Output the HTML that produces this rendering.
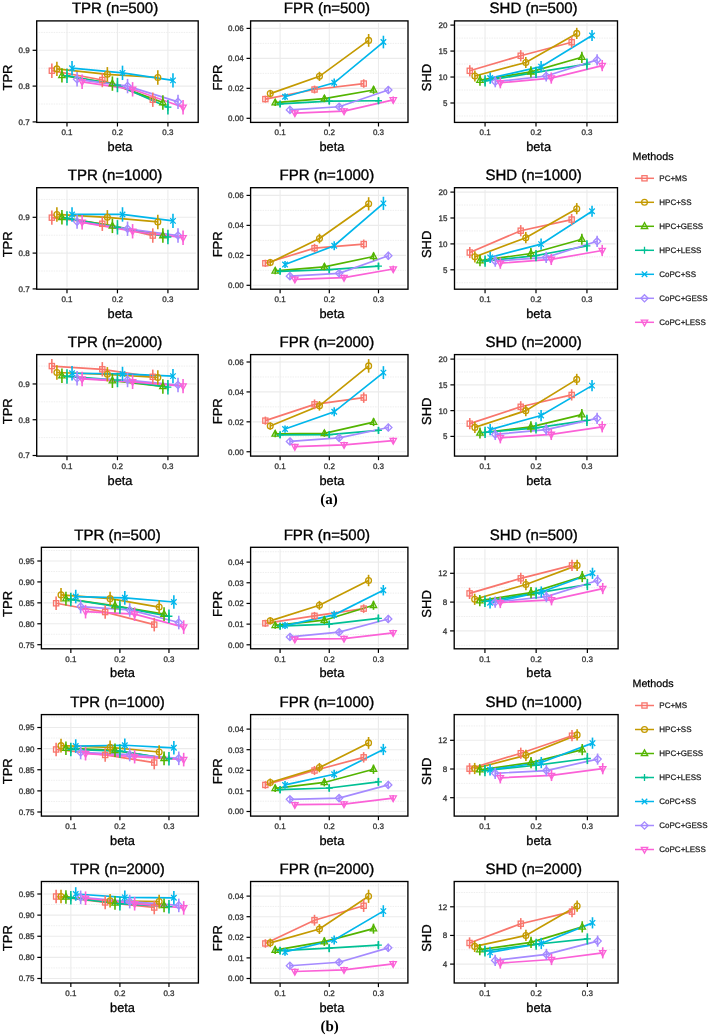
<!DOCTYPE html>
<html><head><meta charset="utf-8"><style>
html,body{margin:0;padding:0;background:#fff;width:709px;height:1035px;overflow:hidden}
svg{display:block;text-rendering:geometricPrecision;will-change:transform}
</style></head><body>
<svg width="709" height="1035" viewBox="0 0 709 1035" font-family='"Liberation Sans", sans-serif'>
<rect width="709" height="1035" fill="#fff"/>
<line x1="38.7" y1="104" x2="196.2" y2="104" stroke="#EEEEEE" stroke-width="1" stroke-dasharray="1.5,1"/>
<line x1="38.7" y1="68.2" x2="196.2" y2="68.2" stroke="#EEEEEE" stroke-width="1" stroke-dasharray="1.5,1"/>
<line x1="38.7" y1="32.4" x2="196.2" y2="32.4" stroke="#EEEEEE" stroke-width="1" stroke-dasharray="1.5,1"/>
<line x1="38.7" y1="86.1" x2="196.2" y2="86.1" stroke="#EBEBEB" stroke-width="1.1"/>
<line x1="38.7" y1="50.3" x2="196.2" y2="50.3" stroke="#EBEBEB" stroke-width="1.1"/>
<line x1="66.98" y1="22.9" x2="66.98" y2="120.4" stroke="#EBEBEB" stroke-width="1.1"/>
<line x1="117.45" y1="22.9" x2="117.45" y2="120.4" stroke="#EBEBEB" stroke-width="1.1"/>
<line x1="167.92" y1="22.9" x2="167.92" y2="120.4" stroke="#EBEBEB" stroke-width="1.1"/>
<path d="M51.84,70.71 L102.31,80.01 L152.78,99.7" fill="none" stroke="#F8766D" stroke-width="1.7"/>
<path d="M56.89,68.92 L107.36,74.29 L157.82,77.51" fill="none" stroke="#C49A00" stroke-width="1.7"/>
<path d="M61.93,75.36 L112.4,83.59 L162.87,102.57" fill="none" stroke="#53B400" stroke-width="1.7"/>
<path d="M66.98,75.72 L117.45,85.03 L167.92,107.22" fill="none" stroke="#00C094" stroke-width="1.7"/>
<path d="M72.03,68.2 L122.5,72.85 L172.97,80.37" fill="none" stroke="#00B6EB" stroke-width="1.7"/>
<path d="M77.08,79.3 L127.54,86.1 L178.01,101.85" fill="none" stroke="#A58AFF" stroke-width="1.7"/>
<path d="M82.12,81.8 L132.59,89.32 L183.06,107.22" fill="none" stroke="#FB61D7" stroke-width="1.7"/>
<line x1="51.84" y1="63.51" x2="51.84" y2="77.91" stroke="#F8766D" stroke-width="1.6"/>
<rect x="49.24" y="68.11" width="5.2" height="5.2" fill="none" stroke="#F8766D" stroke-width="1.3"/>
<line x1="102.31" y1="72.81" x2="102.31" y2="87.21" stroke="#F8766D" stroke-width="1.6"/>
<rect x="99.71" y="77.41" width="5.2" height="5.2" fill="none" stroke="#F8766D" stroke-width="1.3"/>
<line x1="152.78" y1="92.5" x2="152.78" y2="106.9" stroke="#F8766D" stroke-width="1.6"/>
<rect x="150.18" y="97.1" width="5.2" height="5.2" fill="none" stroke="#F8766D" stroke-width="1.3"/>
<line x1="56.89" y1="61.72" x2="56.89" y2="76.12" stroke="#C49A00" stroke-width="1.6"/>
<circle cx="56.89" cy="68.92" r="2.9" fill="none" stroke="#C49A00" stroke-width="1.3"/>
<line x1="107.36" y1="67.09" x2="107.36" y2="81.49" stroke="#C49A00" stroke-width="1.6"/>
<circle cx="107.36" cy="74.29" r="2.9" fill="none" stroke="#C49A00" stroke-width="1.3"/>
<line x1="157.82" y1="70.31" x2="157.82" y2="84.71" stroke="#C49A00" stroke-width="1.6"/>
<circle cx="157.82" cy="77.51" r="2.9" fill="none" stroke="#C49A00" stroke-width="1.3"/>
<line x1="61.93" y1="68.16" x2="61.93" y2="82.56" stroke="#53B400" stroke-width="1.6"/>
<path d="M61.93,71.74 L65.12,77.54 L58.74,77.54 Z" fill="none" stroke="#53B400" stroke-width="1.3"/>
<line x1="112.4" y1="76.39" x2="112.4" y2="90.79" stroke="#53B400" stroke-width="1.6"/>
<path d="M112.4,79.97 L115.59,85.77 L109.21,85.77 Z" fill="none" stroke="#53B400" stroke-width="1.3"/>
<line x1="162.87" y1="95.37" x2="162.87" y2="109.77" stroke="#53B400" stroke-width="1.6"/>
<path d="M162.87,98.94 L166.06,104.74 L159.68,104.74 Z" fill="none" stroke="#53B400" stroke-width="1.3"/>
<line x1="66.98" y1="68.52" x2="66.98" y2="82.92" stroke="#00C094" stroke-width="1.6"/>
<path d="M63.5,75.72 H70.46 M66.98,72.24 V79.2" fill="none" stroke="#00C094" stroke-width="1.3"/>
<line x1="117.45" y1="77.83" x2="117.45" y2="92.23" stroke="#00C094" stroke-width="1.6"/>
<path d="M113.97,85.03 H120.93 M117.45,81.55 V88.51" fill="none" stroke="#00C094" stroke-width="1.3"/>
<line x1="167.92" y1="100.02" x2="167.92" y2="114.42" stroke="#00C094" stroke-width="1.6"/>
<path d="M164.44,107.22 H171.4 M167.92,103.74 V110.7" fill="none" stroke="#00C094" stroke-width="1.3"/>
<line x1="72.03" y1="61" x2="72.03" y2="75.4" stroke="#00B6EB" stroke-width="1.6"/>
<path d="M69.27,65.45 L74.78,70.96 M69.27,70.96 L74.78,65.45" fill="none" stroke="#00B6EB" stroke-width="1.3"/>
<line x1="122.5" y1="65.65" x2="122.5" y2="80.05" stroke="#00B6EB" stroke-width="1.6"/>
<path d="M119.74,70.1 L125.25,75.61 M119.74,75.61 L125.25,70.1" fill="none" stroke="#00B6EB" stroke-width="1.3"/>
<line x1="172.97" y1="73.17" x2="172.97" y2="87.57" stroke="#00B6EB" stroke-width="1.6"/>
<path d="M170.21,77.62 L175.72,83.13 M170.21,83.13 L175.72,77.62" fill="none" stroke="#00B6EB" stroke-width="1.3"/>
<line x1="77.08" y1="72.1" x2="77.08" y2="86.5" stroke="#A58AFF" stroke-width="1.6"/>
<path d="M77.08,75.67 L80.7,79.3 L77.08,82.92 L73.45,79.3 Z" fill="none" stroke="#A58AFF" stroke-width="1.3"/>
<line x1="127.54" y1="78.9" x2="127.54" y2="93.3" stroke="#A58AFF" stroke-width="1.6"/>
<path d="M127.54,82.47 L131.17,86.1 L127.54,89.72 L123.92,86.1 Z" fill="none" stroke="#A58AFF" stroke-width="1.3"/>
<line x1="178.01" y1="94.65" x2="178.01" y2="109.05" stroke="#A58AFF" stroke-width="1.6"/>
<path d="M178.01,98.23 L181.64,101.85 L178.01,105.48 L174.39,101.85 Z" fill="none" stroke="#A58AFF" stroke-width="1.3"/>
<line x1="82.12" y1="74.6" x2="82.12" y2="89" stroke="#FB61D7" stroke-width="1.6"/>
<path d="M82.12,85.43 L85.31,79.63 L78.93,79.63 Z" fill="none" stroke="#FB61D7" stroke-width="1.3"/>
<line x1="132.59" y1="82.12" x2="132.59" y2="96.52" stroke="#FB61D7" stroke-width="1.6"/>
<path d="M132.59,92.95 L135.78,87.15 L129.4,87.15 Z" fill="none" stroke="#FB61D7" stroke-width="1.3"/>
<line x1="183.06" y1="100.02" x2="183.06" y2="114.42" stroke="#FB61D7" stroke-width="1.6"/>
<path d="M183.06,110.85 L186.25,105.05 L179.87,105.05 Z" fill="none" stroke="#FB61D7" stroke-width="1.3"/>
<rect x="36.7" y="20.9" width="161.5" height="101.5" fill="none" stroke="#000" stroke-width="1.35"/>
<line x1="32.6" y1="121.9" x2="36.7" y2="121.9" stroke="#000" stroke-width="1.2"/>
<text x="29.7" y="124.8" font-size="8" text-anchor="end" fill="#333" stroke="#333" stroke-width="0.3">0.7</text>
<line x1="32.6" y1="86.1" x2="36.7" y2="86.1" stroke="#000" stroke-width="1.2"/>
<text x="29.7" y="89" font-size="8" text-anchor="end" fill="#333" stroke="#333" stroke-width="0.3">0.8</text>
<line x1="32.6" y1="50.3" x2="36.7" y2="50.3" stroke="#000" stroke-width="1.2"/>
<text x="29.7" y="53.2" font-size="8" text-anchor="end" fill="#333" stroke="#333" stroke-width="0.3">0.9</text>
<line x1="66.98" y1="122.4" x2="66.98" y2="126.5" stroke="#000" stroke-width="1.2"/>
<text x="66.98" y="135.4" font-size="8" text-anchor="middle" fill="#333" stroke="#333" stroke-width="0.3">0.1</text>
<line x1="117.45" y1="122.4" x2="117.45" y2="126.5" stroke="#000" stroke-width="1.2"/>
<text x="117.45" y="135.4" font-size="8" text-anchor="middle" fill="#333" stroke="#333" stroke-width="0.3">0.2</text>
<line x1="167.92" y1="122.4" x2="167.92" y2="126.5" stroke="#000" stroke-width="1.2"/>
<text x="167.92" y="135.4" font-size="8" text-anchor="middle" fill="#333" stroke="#333" stroke-width="0.3">0.3</text>
<text x="115.05" y="13.3" font-size="15" text-anchor="middle" stroke="#000" stroke-width="0.35">TPR (n=500)</text>
<text x="120.05" y="150.9" font-size="12.8" text-anchor="middle" stroke="#000" stroke-width="0.3">beta</text>
<text transform="translate(11.7,77.55) rotate(-90)" font-size="13" text-anchor="middle" stroke="#000" stroke-width="0.3">TPR</text>
<line x1="252.6" y1="103.32" x2="406" y2="103.32" stroke="#EEEEEE" stroke-width="1" stroke-dasharray="1.5,1"/>
<line x1="252.6" y1="73.35" x2="406" y2="73.35" stroke="#EEEEEE" stroke-width="1" stroke-dasharray="1.5,1"/>
<line x1="252.6" y1="43.38" x2="406" y2="43.38" stroke="#EEEEEE" stroke-width="1" stroke-dasharray="1.5,1"/>
<line x1="252.6" y1="118.3" x2="406" y2="118.3" stroke="#EBEBEB" stroke-width="1.1"/>
<line x1="252.6" y1="88.33" x2="406" y2="88.33" stroke="#EBEBEB" stroke-width="1.1"/>
<line x1="252.6" y1="58.37" x2="406" y2="58.37" stroke="#EBEBEB" stroke-width="1.1"/>
<line x1="252.6" y1="28.4" x2="406" y2="28.4" stroke="#EBEBEB" stroke-width="1.1"/>
<line x1="280.11" y1="22.9" x2="280.11" y2="120.4" stroke="#EBEBEB" stroke-width="1.1"/>
<line x1="329.3" y1="22.9" x2="329.3" y2="120.4" stroke="#EBEBEB" stroke-width="1.1"/>
<line x1="378.49" y1="22.9" x2="378.49" y2="120.4" stroke="#EBEBEB" stroke-width="1.1"/>
<path d="M265.36,99.12 L314.54,89.53 L363.73,83.54" fill="none" stroke="#F8766D" stroke-width="1.7"/>
<path d="M270.27,93.58 L319.46,76.35 L368.65,40.39" fill="none" stroke="#C49A00" stroke-width="1.7"/>
<path d="M275.19,102.72 L324.38,98.67 L373.57,89.98" fill="none" stroke="#53B400" stroke-width="1.7"/>
<path d="M280.11,103.92 L329.3,101.07 L378.49,100.77" fill="none" stroke="#00C094" stroke-width="1.7"/>
<path d="M285.03,96.72 L334.22,82.79 L383.41,42.03" fill="none" stroke="#00B6EB" stroke-width="1.7"/>
<path d="M289.95,109.91 L339.14,106.76 L388.33,89.98" fill="none" stroke="#A58AFF" stroke-width="1.7"/>
<path d="M294.87,113.06 L344.06,111.11 L393.24,99.87" fill="none" stroke="#FB61D7" stroke-width="1.7"/>
<line x1="265.36" y1="95.66" x2="265.36" y2="102.58" stroke="#F8766D" stroke-width="1.6"/>
<rect x="262.76" y="96.52" width="5.2" height="5.2" fill="none" stroke="#F8766D" stroke-width="1.3"/>
<line x1="314.54" y1="85.59" x2="314.54" y2="93.47" stroke="#F8766D" stroke-width="1.6"/>
<rect x="311.94" y="86.93" width="5.2" height="5.2" fill="none" stroke="#F8766D" stroke-width="1.3"/>
<line x1="363.73" y1="79.3" x2="363.73" y2="87.78" stroke="#F8766D" stroke-width="1.6"/>
<rect x="361.13" y="80.94" width="5.2" height="5.2" fill="none" stroke="#F8766D" stroke-width="1.3"/>
<line x1="270.27" y1="89.84" x2="270.27" y2="97.31" stroke="#C49A00" stroke-width="1.6"/>
<circle cx="270.27" cy="93.58" r="2.9" fill="none" stroke="#C49A00" stroke-width="1.3"/>
<line x1="319.46" y1="71.75" x2="319.46" y2="80.94" stroke="#C49A00" stroke-width="1.6"/>
<circle cx="319.46" cy="76.35" r="2.9" fill="none" stroke="#C49A00" stroke-width="1.3"/>
<line x1="368.65" y1="33.99" x2="368.65" y2="46.78" stroke="#C49A00" stroke-width="1.6"/>
<circle cx="368.65" cy="40.39" r="2.9" fill="none" stroke="#C49A00" stroke-width="1.3"/>
<line x1="275.19" y1="99.44" x2="275.19" y2="106" stroke="#53B400" stroke-width="1.6"/>
<path d="M275.19,99.09 L278.38,104.89 L272,104.89 Z" fill="none" stroke="#53B400" stroke-width="1.3"/>
<line x1="324.38" y1="95.19" x2="324.38" y2="102.15" stroke="#53B400" stroke-width="1.6"/>
<path d="M324.38,95.05 L327.57,100.85 L321.19,100.85 Z" fill="none" stroke="#53B400" stroke-width="1.3"/>
<line x1="373.57" y1="86.07" x2="373.57" y2="93.9" stroke="#53B400" stroke-width="1.6"/>
<path d="M373.57,86.36 L376.76,92.16 L370.38,92.16 Z" fill="none" stroke="#53B400" stroke-width="1.3"/>
<line x1="280.11" y1="100.7" x2="280.11" y2="107.14" stroke="#00C094" stroke-width="1.6"/>
<path d="M276.63,103.92 H283.59 M280.11,100.44 V107.4" fill="none" stroke="#00C094" stroke-width="1.3"/>
<line x1="329.3" y1="97.71" x2="329.3" y2="104.43" stroke="#00C094" stroke-width="1.6"/>
<path d="M325.82,101.07 H332.78 M329.3,97.59 V104.55" fill="none" stroke="#00C094" stroke-width="1.3"/>
<line x1="378.49" y1="97.39" x2="378.49" y2="104.15" stroke="#00C094" stroke-width="1.6"/>
<path d="M375.01,100.77 H381.97 M378.49,97.29 V104.25" fill="none" stroke="#00C094" stroke-width="1.3"/>
<line x1="285.03" y1="93.15" x2="285.03" y2="100.3" stroke="#00B6EB" stroke-width="1.6"/>
<path d="M282.28,93.97 L287.79,99.48 M282.28,99.48 L287.79,93.97" fill="none" stroke="#00B6EB" stroke-width="1.3"/>
<line x1="334.22" y1="78.51" x2="334.22" y2="87.07" stroke="#00B6EB" stroke-width="1.6"/>
<path d="M331.46,80.03 L336.97,85.54 M331.46,85.54 L336.97,80.03" fill="none" stroke="#00B6EB" stroke-width="1.3"/>
<line x1="383.41" y1="35.72" x2="383.41" y2="48.35" stroke="#00B6EB" stroke-width="1.6"/>
<path d="M380.65,39.28 L386.16,44.79 M380.65,44.79 L386.16,39.28" fill="none" stroke="#00B6EB" stroke-width="1.3"/>
<line x1="289.95" y1="106.91" x2="289.95" y2="112.91" stroke="#A58AFF" stroke-width="1.6"/>
<path d="M289.95,106.28 L293.57,109.91 L289.95,113.53 L286.32,109.91 Z" fill="none" stroke="#A58AFF" stroke-width="1.3"/>
<line x1="339.14" y1="103.69" x2="339.14" y2="109.84" stroke="#A58AFF" stroke-width="1.6"/>
<path d="M339.14,103.14 L342.76,106.76 L339.14,110.39 L335.51,106.76 Z" fill="none" stroke="#A58AFF" stroke-width="1.3"/>
<line x1="388.33" y1="86.07" x2="388.33" y2="93.9" stroke="#A58AFF" stroke-width="1.6"/>
<path d="M388.33,86.36 L391.95,89.98 L388.33,93.61 L384.7,89.98 Z" fill="none" stroke="#A58AFF" stroke-width="1.3"/>
<line x1="294.87" y1="110.06" x2="294.87" y2="116.06" stroke="#FB61D7" stroke-width="1.6"/>
<path d="M294.87,116.68 L298.06,110.88 L291.68,110.88 Z" fill="none" stroke="#FB61D7" stroke-width="1.3"/>
<line x1="344.06" y1="108.11" x2="344.06" y2="114.11" stroke="#FB61D7" stroke-width="1.6"/>
<path d="M344.06,114.73 L347.25,108.93 L340.87,108.93 Z" fill="none" stroke="#FB61D7" stroke-width="1.3"/>
<line x1="393.24" y1="96.45" x2="393.24" y2="103.29" stroke="#FB61D7" stroke-width="1.6"/>
<path d="M393.24,103.5 L396.43,97.7 L390.05,97.7 Z" fill="none" stroke="#FB61D7" stroke-width="1.3"/>
<rect x="250.6" y="20.9" width="157.4" height="101.5" fill="none" stroke="#000" stroke-width="1.35"/>
<line x1="246.5" y1="118.3" x2="250.6" y2="118.3" stroke="#000" stroke-width="1.2"/>
<text x="243.6" y="121.2" font-size="8" text-anchor="end" fill="#333" stroke="#333" stroke-width="0.3">0.00</text>
<line x1="246.5" y1="88.33" x2="250.6" y2="88.33" stroke="#000" stroke-width="1.2"/>
<text x="243.6" y="91.23" font-size="8" text-anchor="end" fill="#333" stroke="#333" stroke-width="0.3">0.02</text>
<line x1="246.5" y1="58.37" x2="250.6" y2="58.37" stroke="#000" stroke-width="1.2"/>
<text x="243.6" y="61.27" font-size="8" text-anchor="end" fill="#333" stroke="#333" stroke-width="0.3">0.04</text>
<line x1="246.5" y1="28.4" x2="250.6" y2="28.4" stroke="#000" stroke-width="1.2"/>
<text x="243.6" y="31.3" font-size="8" text-anchor="end" fill="#333" stroke="#333" stroke-width="0.3">0.06</text>
<line x1="280.11" y1="122.4" x2="280.11" y2="126.5" stroke="#000" stroke-width="1.2"/>
<text x="280.11" y="135.4" font-size="8" text-anchor="middle" fill="#333" stroke="#333" stroke-width="0.3">0.1</text>
<line x1="329.3" y1="122.4" x2="329.3" y2="126.5" stroke="#000" stroke-width="1.2"/>
<text x="329.3" y="135.4" font-size="8" text-anchor="middle" fill="#333" stroke="#333" stroke-width="0.3">0.2</text>
<line x1="378.49" y1="122.4" x2="378.49" y2="126.5" stroke="#000" stroke-width="1.2"/>
<text x="378.49" y="135.4" font-size="8" text-anchor="middle" fill="#333" stroke="#333" stroke-width="0.3">0.3</text>
<text x="326.9" y="13.3" font-size="15" text-anchor="middle" stroke="#000" stroke-width="0.35">FPR (n=500)</text>
<text x="331.9" y="150.9" font-size="12.8" text-anchor="middle" stroke="#000" stroke-width="0.3">beta</text>
<text transform="translate(221.5,77.55) rotate(-90)" font-size="13" text-anchor="middle" stroke="#000" stroke-width="0.3">FPR</text>
<line x1="456.5" y1="115.98" x2="615.5" y2="115.98" stroke="#EEEEEE" stroke-width="1" stroke-dasharray="1.5,1"/>
<line x1="456.5" y1="90.02" x2="615.5" y2="90.02" stroke="#EEEEEE" stroke-width="1" stroke-dasharray="1.5,1"/>
<line x1="456.5" y1="64.05" x2="615.5" y2="64.05" stroke="#EEEEEE" stroke-width="1" stroke-dasharray="1.5,1"/>
<line x1="456.5" y1="38.08" x2="615.5" y2="38.08" stroke="#EEEEEE" stroke-width="1" stroke-dasharray="1.5,1"/>
<line x1="456.5" y1="103" x2="615.5" y2="103" stroke="#EBEBEB" stroke-width="1.1"/>
<line x1="456.5" y1="77.03" x2="615.5" y2="77.03" stroke="#EBEBEB" stroke-width="1.1"/>
<line x1="456.5" y1="51.07" x2="615.5" y2="51.07" stroke="#EBEBEB" stroke-width="1.1"/>
<line x1="456.5" y1="25.1" x2="615.5" y2="25.1" stroke="#EBEBEB" stroke-width="1.1"/>
<line x1="485.06" y1="22.9" x2="485.06" y2="120.4" stroke="#EBEBEB" stroke-width="1.1"/>
<line x1="536" y1="22.9" x2="536" y2="120.4" stroke="#EBEBEB" stroke-width="1.1"/>
<line x1="586.94" y1="22.9" x2="586.94" y2="120.4" stroke="#EBEBEB" stroke-width="1.1"/>
<path d="M469.78,70.8 L520.72,55.74 L571.66,42.24" fill="none" stroke="#F8766D" stroke-width="1.7"/>
<path d="M474.88,75.99 L525.81,62.49 L576.75,33.41" fill="none" stroke="#C49A00" stroke-width="1.7"/>
<path d="M479.97,80.15 L530.91,71.84 L581.84,57.3" fill="none" stroke="#53B400" stroke-width="1.7"/>
<path d="M485.06,80.93 L536,72.36 L586.94,64.05" fill="none" stroke="#00C094" stroke-width="1.7"/>
<path d="M490.16,78.07 L541.09,66.65 L592.03,35.49" fill="none" stroke="#00B6EB" stroke-width="1.7"/>
<path d="M495.25,81.71 L546.19,75.99 L597.12,59.9" fill="none" stroke="#A58AFF" stroke-width="1.7"/>
<path d="M500.34,82.75 L551.28,78.07 L602.22,65.61" fill="none" stroke="#FB61D7" stroke-width="1.7"/>
<line x1="469.78" y1="65.2" x2="469.78" y2="76.4" stroke="#F8766D" stroke-width="1.6"/>
<rect x="467.18" y="68.2" width="5.2" height="5.2" fill="none" stroke="#F8766D" stroke-width="1.3"/>
<line x1="520.72" y1="50.14" x2="520.72" y2="61.34" stroke="#F8766D" stroke-width="1.6"/>
<rect x="518.12" y="53.14" width="5.2" height="5.2" fill="none" stroke="#F8766D" stroke-width="1.3"/>
<line x1="571.66" y1="36.64" x2="571.66" y2="47.84" stroke="#F8766D" stroke-width="1.6"/>
<rect x="569.06" y="39.64" width="5.2" height="5.2" fill="none" stroke="#F8766D" stroke-width="1.3"/>
<line x1="474.88" y1="70.39" x2="474.88" y2="81.59" stroke="#C49A00" stroke-width="1.6"/>
<circle cx="474.88" cy="75.99" r="2.9" fill="none" stroke="#C49A00" stroke-width="1.3"/>
<line x1="525.81" y1="56.89" x2="525.81" y2="68.09" stroke="#C49A00" stroke-width="1.6"/>
<circle cx="525.81" cy="62.49" r="2.9" fill="none" stroke="#C49A00" stroke-width="1.3"/>
<line x1="576.75" y1="27.81" x2="576.75" y2="39.01" stroke="#C49A00" stroke-width="1.6"/>
<circle cx="576.75" cy="33.41" r="2.9" fill="none" stroke="#C49A00" stroke-width="1.3"/>
<line x1="479.97" y1="74.55" x2="479.97" y2="85.75" stroke="#53B400" stroke-width="1.6"/>
<path d="M479.97,76.52 L483.16,82.32 L476.78,82.32 Z" fill="none" stroke="#53B400" stroke-width="1.3"/>
<line x1="530.91" y1="66.24" x2="530.91" y2="77.44" stroke="#53B400" stroke-width="1.6"/>
<path d="M530.91,68.22 L534.1,74.02 L527.72,74.02 Z" fill="none" stroke="#53B400" stroke-width="1.3"/>
<line x1="581.84" y1="51.7" x2="581.84" y2="62.9" stroke="#53B400" stroke-width="1.6"/>
<path d="M581.84,53.67 L585.03,59.47 L578.65,59.47 Z" fill="none" stroke="#53B400" stroke-width="1.3"/>
<line x1="485.06" y1="75.33" x2="485.06" y2="86.53" stroke="#00C094" stroke-width="1.6"/>
<path d="M481.58,80.93 H488.54 M485.06,77.45 V84.41" fill="none" stroke="#00C094" stroke-width="1.3"/>
<line x1="536" y1="66.76" x2="536" y2="77.96" stroke="#00C094" stroke-width="1.6"/>
<path d="M532.52,72.36 H539.48 M536,68.88 V75.84" fill="none" stroke="#00C094" stroke-width="1.3"/>
<line x1="586.94" y1="58.45" x2="586.94" y2="69.65" stroke="#00C094" stroke-width="1.6"/>
<path d="M583.46,64.05 H590.42 M586.94,60.57 V67.53" fill="none" stroke="#00C094" stroke-width="1.3"/>
<line x1="490.16" y1="72.47" x2="490.16" y2="83.67" stroke="#00B6EB" stroke-width="1.6"/>
<path d="M487.4,75.32 L492.91,80.83 M487.4,80.83 L492.91,75.32" fill="none" stroke="#00B6EB" stroke-width="1.3"/>
<line x1="541.09" y1="61.05" x2="541.09" y2="72.25" stroke="#00B6EB" stroke-width="1.6"/>
<path d="M538.34,63.89 L543.85,69.4 M538.34,69.4 L543.85,63.89" fill="none" stroke="#00B6EB" stroke-width="1.3"/>
<line x1="592.03" y1="29.89" x2="592.03" y2="41.09" stroke="#00B6EB" stroke-width="1.6"/>
<path d="M589.28,32.73 L594.79,38.24 M589.28,38.24 L594.79,32.73" fill="none" stroke="#00B6EB" stroke-width="1.3"/>
<line x1="495.25" y1="76.11" x2="495.25" y2="87.31" stroke="#A58AFF" stroke-width="1.6"/>
<path d="M495.25,78.08 L498.88,81.71 L495.25,85.33 L491.62,81.71 Z" fill="none" stroke="#A58AFF" stroke-width="1.3"/>
<line x1="546.19" y1="70.39" x2="546.19" y2="81.59" stroke="#A58AFF" stroke-width="1.6"/>
<path d="M546.19,72.37 L549.81,75.99 L546.19,79.62 L542.56,75.99 Z" fill="none" stroke="#A58AFF" stroke-width="1.3"/>
<line x1="597.12" y1="54.3" x2="597.12" y2="65.5" stroke="#A58AFF" stroke-width="1.6"/>
<path d="M597.12,56.27 L600.75,59.9 L597.12,63.52 L593.5,59.9 Z" fill="none" stroke="#A58AFF" stroke-width="1.3"/>
<line x1="500.34" y1="77.15" x2="500.34" y2="88.35" stroke="#FB61D7" stroke-width="1.6"/>
<path d="M500.34,86.37 L503.53,80.57 L497.15,80.57 Z" fill="none" stroke="#FB61D7" stroke-width="1.3"/>
<line x1="551.28" y1="72.47" x2="551.28" y2="83.67" stroke="#FB61D7" stroke-width="1.6"/>
<path d="M551.28,81.7 L554.47,75.9 L548.09,75.9 Z" fill="none" stroke="#FB61D7" stroke-width="1.3"/>
<line x1="602.22" y1="60.01" x2="602.22" y2="71.21" stroke="#FB61D7" stroke-width="1.6"/>
<path d="M602.22,69.23 L605.41,63.43 L599.03,63.43 Z" fill="none" stroke="#FB61D7" stroke-width="1.3"/>
<rect x="454.5" y="20.9" width="163" height="101.5" fill="none" stroke="#000" stroke-width="1.35"/>
<line x1="450.4" y1="103" x2="454.5" y2="103" stroke="#000" stroke-width="1.2"/>
<text x="447.5" y="105.9" font-size="8" text-anchor="end" fill="#333" stroke="#333" stroke-width="0.3">5</text>
<line x1="450.4" y1="77.03" x2="454.5" y2="77.03" stroke="#000" stroke-width="1.2"/>
<text x="447.5" y="79.93" font-size="8" text-anchor="end" fill="#333" stroke="#333" stroke-width="0.3">10</text>
<line x1="450.4" y1="51.07" x2="454.5" y2="51.07" stroke="#000" stroke-width="1.2"/>
<text x="447.5" y="53.97" font-size="8" text-anchor="end" fill="#333" stroke="#333" stroke-width="0.3">15</text>
<line x1="450.4" y1="25.1" x2="454.5" y2="25.1" stroke="#000" stroke-width="1.2"/>
<text x="447.5" y="28" font-size="8" text-anchor="end" fill="#333" stroke="#333" stroke-width="0.3">20</text>
<line x1="485.06" y1="122.4" x2="485.06" y2="126.5" stroke="#000" stroke-width="1.2"/>
<text x="485.06" y="135.4" font-size="8" text-anchor="middle" fill="#333" stroke="#333" stroke-width="0.3">0.1</text>
<line x1="536" y1="122.4" x2="536" y2="126.5" stroke="#000" stroke-width="1.2"/>
<text x="536" y="135.4" font-size="8" text-anchor="middle" fill="#333" stroke="#333" stroke-width="0.3">0.2</text>
<line x1="586.94" y1="122.4" x2="586.94" y2="126.5" stroke="#000" stroke-width="1.2"/>
<text x="586.94" y="135.4" font-size="8" text-anchor="middle" fill="#333" stroke="#333" stroke-width="0.3">0.3</text>
<text x="533.6" y="13.3" font-size="15" text-anchor="middle" stroke="#000" stroke-width="0.35">SHD (n=500)</text>
<text x="538.6" y="150.9" font-size="12.8" text-anchor="middle" stroke="#000" stroke-width="0.3">beta</text>
<text transform="translate(431,77.55) rotate(-90)" font-size="13" text-anchor="middle" stroke="#000" stroke-width="0.3">SHD</text>
<line x1="38.7" y1="271" x2="196.2" y2="271" stroke="#EEEEEE" stroke-width="1" stroke-dasharray="1.5,1"/>
<line x1="38.7" y1="235.2" x2="196.2" y2="235.2" stroke="#EEEEEE" stroke-width="1" stroke-dasharray="1.5,1"/>
<line x1="38.7" y1="199.4" x2="196.2" y2="199.4" stroke="#EEEEEE" stroke-width="1" stroke-dasharray="1.5,1"/>
<line x1="38.7" y1="253.1" x2="196.2" y2="253.1" stroke="#EBEBEB" stroke-width="1.1"/>
<line x1="38.7" y1="217.3" x2="196.2" y2="217.3" stroke="#EBEBEB" stroke-width="1.1"/>
<line x1="66.98" y1="189.7" x2="66.98" y2="287.2" stroke="#EBEBEB" stroke-width="1.1"/>
<line x1="117.45" y1="189.7" x2="117.45" y2="287.2" stroke="#EBEBEB" stroke-width="1.1"/>
<line x1="167.92" y1="189.7" x2="167.92" y2="287.2" stroke="#EBEBEB" stroke-width="1.1"/>
<path d="M51.84,217.66 L102.31,223.74 L152.78,235.56" fill="none" stroke="#F8766D" stroke-width="1.7"/>
<path d="M56.89,214.44 L107.36,217.3 L157.82,221.95" fill="none" stroke="#C49A00" stroke-width="1.7"/>
<path d="M61.93,217.3 L112.4,225.89 L162.87,235.56" fill="none" stroke="#53B400" stroke-width="1.7"/>
<path d="M66.98,218.37 L117.45,227.32 L167.92,236.99" fill="none" stroke="#00C094" stroke-width="1.7"/>
<path d="M72.03,214.44 L122.5,214.44 L172.97,220.88" fill="none" stroke="#00B6EB" stroke-width="1.7"/>
<path d="M77.08,221.6 L127.54,228.76 L178.01,235.56" fill="none" stroke="#A58AFF" stroke-width="1.7"/>
<path d="M82.12,222.31 L132.59,231.26 L183.06,237.71" fill="none" stroke="#FB61D7" stroke-width="1.7"/>
<line x1="51.84" y1="210.46" x2="51.84" y2="224.86" stroke="#F8766D" stroke-width="1.6"/>
<rect x="49.24" y="215.06" width="5.2" height="5.2" fill="none" stroke="#F8766D" stroke-width="1.3"/>
<line x1="102.31" y1="216.54" x2="102.31" y2="230.94" stroke="#F8766D" stroke-width="1.6"/>
<rect x="99.71" y="221.14" width="5.2" height="5.2" fill="none" stroke="#F8766D" stroke-width="1.3"/>
<line x1="152.78" y1="228.36" x2="152.78" y2="242.76" stroke="#F8766D" stroke-width="1.6"/>
<rect x="150.18" y="232.96" width="5.2" height="5.2" fill="none" stroke="#F8766D" stroke-width="1.3"/>
<line x1="56.89" y1="207.24" x2="56.89" y2="221.64" stroke="#C49A00" stroke-width="1.6"/>
<circle cx="56.89" cy="214.44" r="2.9" fill="none" stroke="#C49A00" stroke-width="1.3"/>
<line x1="107.36" y1="210.1" x2="107.36" y2="224.5" stroke="#C49A00" stroke-width="1.6"/>
<circle cx="107.36" cy="217.3" r="2.9" fill="none" stroke="#C49A00" stroke-width="1.3"/>
<line x1="157.82" y1="214.75" x2="157.82" y2="229.15" stroke="#C49A00" stroke-width="1.6"/>
<circle cx="157.82" cy="221.95" r="2.9" fill="none" stroke="#C49A00" stroke-width="1.3"/>
<line x1="61.93" y1="210.1" x2="61.93" y2="224.5" stroke="#53B400" stroke-width="1.6"/>
<path d="M61.93,213.68 L65.12,219.48 L58.74,219.48 Z" fill="none" stroke="#53B400" stroke-width="1.3"/>
<line x1="112.4" y1="218.69" x2="112.4" y2="233.09" stroke="#53B400" stroke-width="1.6"/>
<path d="M112.4,222.27 L115.59,228.07 L109.21,228.07 Z" fill="none" stroke="#53B400" stroke-width="1.3"/>
<line x1="162.87" y1="228.36" x2="162.87" y2="242.76" stroke="#53B400" stroke-width="1.6"/>
<path d="M162.87,231.93 L166.06,237.73 L159.68,237.73 Z" fill="none" stroke="#53B400" stroke-width="1.3"/>
<line x1="66.98" y1="211.17" x2="66.98" y2="225.57" stroke="#00C094" stroke-width="1.6"/>
<path d="M63.5,218.37 H70.46 M66.98,214.89 V221.85" fill="none" stroke="#00C094" stroke-width="1.3"/>
<line x1="117.45" y1="220.12" x2="117.45" y2="234.52" stroke="#00C094" stroke-width="1.6"/>
<path d="M113.97,227.32 H120.93 M117.45,223.84 V230.8" fill="none" stroke="#00C094" stroke-width="1.3"/>
<line x1="167.92" y1="229.79" x2="167.92" y2="244.19" stroke="#00C094" stroke-width="1.6"/>
<path d="M164.44,236.99 H171.4 M167.92,233.51 V240.47" fill="none" stroke="#00C094" stroke-width="1.3"/>
<line x1="72.03" y1="207.24" x2="72.03" y2="221.64" stroke="#00B6EB" stroke-width="1.6"/>
<path d="M69.27,211.68 L74.78,217.19 M69.27,217.19 L74.78,211.68" fill="none" stroke="#00B6EB" stroke-width="1.3"/>
<line x1="122.5" y1="207.24" x2="122.5" y2="221.64" stroke="#00B6EB" stroke-width="1.6"/>
<path d="M119.74,211.68 L125.25,217.19 M119.74,217.19 L125.25,211.68" fill="none" stroke="#00B6EB" stroke-width="1.3"/>
<line x1="172.97" y1="213.68" x2="172.97" y2="228.08" stroke="#00B6EB" stroke-width="1.6"/>
<path d="M170.21,218.13 L175.72,223.64 M170.21,223.64 L175.72,218.13" fill="none" stroke="#00B6EB" stroke-width="1.3"/>
<line x1="77.08" y1="214.4" x2="77.08" y2="228.8" stroke="#A58AFF" stroke-width="1.6"/>
<path d="M77.08,217.97 L80.7,221.6 L77.08,225.22 L73.45,221.6 Z" fill="none" stroke="#A58AFF" stroke-width="1.3"/>
<line x1="127.54" y1="221.56" x2="127.54" y2="235.96" stroke="#A58AFF" stroke-width="1.6"/>
<path d="M127.54,225.13 L131.17,228.76 L127.54,232.38 L123.92,228.76 Z" fill="none" stroke="#A58AFF" stroke-width="1.3"/>
<line x1="178.01" y1="228.36" x2="178.01" y2="242.76" stroke="#A58AFF" stroke-width="1.6"/>
<path d="M178.01,231.93 L181.64,235.56 L178.01,239.18 L174.39,235.56 Z" fill="none" stroke="#A58AFF" stroke-width="1.3"/>
<line x1="82.12" y1="215.11" x2="82.12" y2="229.51" stroke="#FB61D7" stroke-width="1.6"/>
<path d="M82.12,225.94 L85.31,220.14 L78.93,220.14 Z" fill="none" stroke="#FB61D7" stroke-width="1.3"/>
<line x1="132.59" y1="224.06" x2="132.59" y2="238.46" stroke="#FB61D7" stroke-width="1.6"/>
<path d="M132.59,234.89 L135.78,229.09 L129.4,229.09 Z" fill="none" stroke="#FB61D7" stroke-width="1.3"/>
<line x1="183.06" y1="230.51" x2="183.06" y2="244.91" stroke="#FB61D7" stroke-width="1.6"/>
<path d="M183.06,241.33 L186.25,235.53 L179.87,235.53 Z" fill="none" stroke="#FB61D7" stroke-width="1.3"/>
<rect x="36.7" y="187.7" width="161.5" height="101.5" fill="none" stroke="#000" stroke-width="1.35"/>
<line x1="32.6" y1="288.9" x2="36.7" y2="288.9" stroke="#000" stroke-width="1.2"/>
<text x="29.7" y="291.8" font-size="8" text-anchor="end" fill="#333" stroke="#333" stroke-width="0.3">0.7</text>
<line x1="32.6" y1="253.1" x2="36.7" y2="253.1" stroke="#000" stroke-width="1.2"/>
<text x="29.7" y="256" font-size="8" text-anchor="end" fill="#333" stroke="#333" stroke-width="0.3">0.8</text>
<line x1="32.6" y1="217.3" x2="36.7" y2="217.3" stroke="#000" stroke-width="1.2"/>
<text x="29.7" y="220.2" font-size="8" text-anchor="end" fill="#333" stroke="#333" stroke-width="0.3">0.9</text>
<line x1="66.98" y1="289.2" x2="66.98" y2="293.3" stroke="#000" stroke-width="1.2"/>
<text x="66.98" y="302.2" font-size="8" text-anchor="middle" fill="#333" stroke="#333" stroke-width="0.3">0.1</text>
<line x1="117.45" y1="289.2" x2="117.45" y2="293.3" stroke="#000" stroke-width="1.2"/>
<text x="117.45" y="302.2" font-size="8" text-anchor="middle" fill="#333" stroke="#333" stroke-width="0.3">0.2</text>
<line x1="167.92" y1="289.2" x2="167.92" y2="293.3" stroke="#000" stroke-width="1.2"/>
<text x="167.92" y="302.2" font-size="8" text-anchor="middle" fill="#333" stroke="#333" stroke-width="0.3">0.3</text>
<text x="115.05" y="180.1" font-size="15" text-anchor="middle" stroke="#000" stroke-width="0.35">TPR (n=1000)</text>
<text x="120.05" y="317.7" font-size="12.8" text-anchor="middle" stroke="#000" stroke-width="0.3">beta</text>
<text transform="translate(11.7,244.35) rotate(-90)" font-size="13" text-anchor="middle" stroke="#000" stroke-width="0.3">TPR</text>
<line x1="252.6" y1="270.32" x2="406" y2="270.32" stroke="#EEEEEE" stroke-width="1" stroke-dasharray="1.5,1"/>
<line x1="252.6" y1="240.35" x2="406" y2="240.35" stroke="#EEEEEE" stroke-width="1" stroke-dasharray="1.5,1"/>
<line x1="252.6" y1="210.38" x2="406" y2="210.38" stroke="#EEEEEE" stroke-width="1" stroke-dasharray="1.5,1"/>
<line x1="252.6" y1="285.3" x2="406" y2="285.3" stroke="#EBEBEB" stroke-width="1.1"/>
<line x1="252.6" y1="255.33" x2="406" y2="255.33" stroke="#EBEBEB" stroke-width="1.1"/>
<line x1="252.6" y1="225.37" x2="406" y2="225.37" stroke="#EBEBEB" stroke-width="1.1"/>
<line x1="252.6" y1="195.4" x2="406" y2="195.4" stroke="#EBEBEB" stroke-width="1.1"/>
<line x1="280.11" y1="189.7" x2="280.11" y2="287.2" stroke="#EBEBEB" stroke-width="1.1"/>
<line x1="329.3" y1="189.7" x2="329.3" y2="287.2" stroke="#EBEBEB" stroke-width="1.1"/>
<line x1="378.49" y1="189.7" x2="378.49" y2="287.2" stroke="#EBEBEB" stroke-width="1.1"/>
<path d="M265.36,263.27 L314.54,248.14 L363.73,244.1" fill="none" stroke="#F8766D" stroke-width="1.7"/>
<path d="M270.27,262.53 L319.46,238.55 L368.65,203.79" fill="none" stroke="#C49A00" stroke-width="1.7"/>
<path d="M275.19,270.92 L324.38,266.87 L373.57,256.53" fill="none" stroke="#53B400" stroke-width="1.7"/>
<path d="M280.11,271.37 L329.3,269.72 L378.49,266.12" fill="none" stroke="#00C094" stroke-width="1.7"/>
<path d="M285.03,264.47 L334.22,245.74 L383.41,203.34" fill="none" stroke="#00B6EB" stroke-width="1.7"/>
<path d="M289.95,276.16 L339.14,273.31 L388.33,255.78" fill="none" stroke="#A58AFF" stroke-width="1.7"/>
<path d="M294.87,279.31 L344.06,277.66 L393.24,268.97" fill="none" stroke="#FB61D7" stroke-width="1.7"/>
<line x1="265.36" y1="259.67" x2="265.36" y2="266.88" stroke="#F8766D" stroke-width="1.6"/>
<rect x="262.76" y="260.67" width="5.2" height="5.2" fill="none" stroke="#F8766D" stroke-width="1.3"/>
<line x1="314.54" y1="243.78" x2="314.54" y2="252.5" stroke="#F8766D" stroke-width="1.6"/>
<rect x="311.94" y="245.54" width="5.2" height="5.2" fill="none" stroke="#F8766D" stroke-width="1.3"/>
<line x1="363.73" y1="239.54" x2="363.73" y2="248.66" stroke="#F8766D" stroke-width="1.6"/>
<rect x="361.13" y="241.5" width="5.2" height="5.2" fill="none" stroke="#F8766D" stroke-width="1.3"/>
<line x1="270.27" y1="258.89" x2="270.27" y2="266.16" stroke="#C49A00" stroke-width="1.6"/>
<circle cx="270.27" cy="262.53" r="2.9" fill="none" stroke="#C49A00" stroke-width="1.3"/>
<line x1="319.46" y1="233.71" x2="319.46" y2="243.39" stroke="#C49A00" stroke-width="1.6"/>
<circle cx="319.46" cy="238.55" r="2.9" fill="none" stroke="#C49A00" stroke-width="1.3"/>
<line x1="368.65" y1="197.22" x2="368.65" y2="210.37" stroke="#C49A00" stroke-width="1.6"/>
<circle cx="368.65" cy="203.79" r="2.9" fill="none" stroke="#C49A00" stroke-width="1.3"/>
<line x1="275.19" y1="267.7" x2="275.19" y2="274.14" stroke="#53B400" stroke-width="1.6"/>
<path d="M275.19,267.29 L278.38,273.09 L272,273.09 Z" fill="none" stroke="#53B400" stroke-width="1.3"/>
<line x1="324.38" y1="263.45" x2="324.38" y2="270.29" stroke="#53B400" stroke-width="1.6"/>
<path d="M324.38,263.25 L327.57,269.05 L321.19,269.05 Z" fill="none" stroke="#53B400" stroke-width="1.3"/>
<line x1="373.57" y1="252.59" x2="373.57" y2="260.47" stroke="#53B400" stroke-width="1.6"/>
<path d="M373.57,252.91 L376.76,258.71 L370.38,258.71 Z" fill="none" stroke="#53B400" stroke-width="1.3"/>
<line x1="280.11" y1="268.17" x2="280.11" y2="274.56" stroke="#00C094" stroke-width="1.6"/>
<path d="M276.63,271.37 H283.59 M280.11,267.89 V274.85" fill="none" stroke="#00C094" stroke-width="1.3"/>
<line x1="329.3" y1="266.44" x2="329.3" y2="273" stroke="#00C094" stroke-width="1.6"/>
<path d="M325.82,269.72 H332.78 M329.3,266.24 V273.2" fill="none" stroke="#00C094" stroke-width="1.3"/>
<line x1="378.49" y1="262.66" x2="378.49" y2="269.58" stroke="#00C094" stroke-width="1.6"/>
<path d="M375.01,266.12 H381.97 M378.49,262.64 V269.6" fill="none" stroke="#00C094" stroke-width="1.3"/>
<line x1="285.03" y1="260.93" x2="285.03" y2="268.01" stroke="#00B6EB" stroke-width="1.6"/>
<path d="M282.28,261.72 L287.79,267.23 M282.28,267.23 L287.79,261.72" fill="none" stroke="#00B6EB" stroke-width="1.3"/>
<line x1="334.22" y1="241.27" x2="334.22" y2="250.22" stroke="#00B6EB" stroke-width="1.6"/>
<path d="M331.46,242.99 L336.97,248.5 M331.46,248.5 L336.97,242.99" fill="none" stroke="#00B6EB" stroke-width="1.3"/>
<line x1="383.41" y1="196.74" x2="383.41" y2="209.94" stroke="#00B6EB" stroke-width="1.6"/>
<path d="M380.65,200.59 L386.16,206.1 M380.65,206.1 L386.16,200.59" fill="none" stroke="#00B6EB" stroke-width="1.3"/>
<line x1="289.95" y1="273.16" x2="289.95" y2="279.16" stroke="#A58AFF" stroke-width="1.6"/>
<path d="M289.95,272.54 L293.57,276.16 L289.95,279.79 L286.32,276.16 Z" fill="none" stroke="#A58AFF" stroke-width="1.3"/>
<line x1="339.14" y1="270.21" x2="339.14" y2="276.41" stroke="#A58AFF" stroke-width="1.6"/>
<path d="M339.14,269.69 L342.76,273.31 L339.14,276.94 L335.51,273.31 Z" fill="none" stroke="#A58AFF" stroke-width="1.3"/>
<line x1="388.33" y1="251.81" x2="388.33" y2="259.76" stroke="#A58AFF" stroke-width="1.6"/>
<path d="M388.33,252.16 L391.95,255.78 L388.33,259.41 L384.7,255.78 Z" fill="none" stroke="#A58AFF" stroke-width="1.3"/>
<line x1="294.87" y1="276.31" x2="294.87" y2="282.31" stroke="#FB61D7" stroke-width="1.6"/>
<path d="M294.87,282.93 L298.06,277.13 L291.68,277.13 Z" fill="none" stroke="#FB61D7" stroke-width="1.3"/>
<line x1="344.06" y1="274.66" x2="344.06" y2="280.66" stroke="#FB61D7" stroke-width="1.6"/>
<path d="M344.06,281.28 L347.25,275.48 L340.87,275.48 Z" fill="none" stroke="#FB61D7" stroke-width="1.3"/>
<line x1="393.24" y1="265.65" x2="393.24" y2="272.28" stroke="#FB61D7" stroke-width="1.6"/>
<path d="M393.24,272.59 L396.43,266.79 L390.05,266.79 Z" fill="none" stroke="#FB61D7" stroke-width="1.3"/>
<rect x="250.6" y="187.7" width="157.4" height="101.5" fill="none" stroke="#000" stroke-width="1.35"/>
<line x1="246.5" y1="285.3" x2="250.6" y2="285.3" stroke="#000" stroke-width="1.2"/>
<text x="243.6" y="288.2" font-size="8" text-anchor="end" fill="#333" stroke="#333" stroke-width="0.3">0.00</text>
<line x1="246.5" y1="255.33" x2="250.6" y2="255.33" stroke="#000" stroke-width="1.2"/>
<text x="243.6" y="258.23" font-size="8" text-anchor="end" fill="#333" stroke="#333" stroke-width="0.3">0.02</text>
<line x1="246.5" y1="225.37" x2="250.6" y2="225.37" stroke="#000" stroke-width="1.2"/>
<text x="243.6" y="228.27" font-size="8" text-anchor="end" fill="#333" stroke="#333" stroke-width="0.3">0.04</text>
<line x1="246.5" y1="195.4" x2="250.6" y2="195.4" stroke="#000" stroke-width="1.2"/>
<text x="243.6" y="198.3" font-size="8" text-anchor="end" fill="#333" stroke="#333" stroke-width="0.3">0.06</text>
<line x1="280.11" y1="289.2" x2="280.11" y2="293.3" stroke="#000" stroke-width="1.2"/>
<text x="280.11" y="302.2" font-size="8" text-anchor="middle" fill="#333" stroke="#333" stroke-width="0.3">0.1</text>
<line x1="329.3" y1="289.2" x2="329.3" y2="293.3" stroke="#000" stroke-width="1.2"/>
<text x="329.3" y="302.2" font-size="8" text-anchor="middle" fill="#333" stroke="#333" stroke-width="0.3">0.2</text>
<line x1="378.49" y1="289.2" x2="378.49" y2="293.3" stroke="#000" stroke-width="1.2"/>
<text x="378.49" y="302.2" font-size="8" text-anchor="middle" fill="#333" stroke="#333" stroke-width="0.3">0.3</text>
<text x="326.9" y="180.1" font-size="15" text-anchor="middle" stroke="#000" stroke-width="0.35">FPR (n=1000)</text>
<text x="331.9" y="317.7" font-size="12.8" text-anchor="middle" stroke="#000" stroke-width="0.3">beta</text>
<text transform="translate(221.5,244.35) rotate(-90)" font-size="13" text-anchor="middle" stroke="#000" stroke-width="0.3">FPR</text>
<line x1="456.5" y1="282.75" x2="615.5" y2="282.75" stroke="#EEEEEE" stroke-width="1" stroke-dasharray="1.5,1"/>
<line x1="456.5" y1="256.85" x2="615.5" y2="256.85" stroke="#EEEEEE" stroke-width="1" stroke-dasharray="1.5,1"/>
<line x1="456.5" y1="230.95" x2="615.5" y2="230.95" stroke="#EEEEEE" stroke-width="1" stroke-dasharray="1.5,1"/>
<line x1="456.5" y1="205.05" x2="615.5" y2="205.05" stroke="#EEEEEE" stroke-width="1" stroke-dasharray="1.5,1"/>
<line x1="456.5" y1="269.8" x2="615.5" y2="269.8" stroke="#EBEBEB" stroke-width="1.1"/>
<line x1="456.5" y1="243.9" x2="615.5" y2="243.9" stroke="#EBEBEB" stroke-width="1.1"/>
<line x1="456.5" y1="218" x2="615.5" y2="218" stroke="#EBEBEB" stroke-width="1.1"/>
<line x1="456.5" y1="192.1" x2="615.5" y2="192.1" stroke="#EBEBEB" stroke-width="1.1"/>
<line x1="485.06" y1="189.7" x2="485.06" y2="287.2" stroke="#EBEBEB" stroke-width="1.1"/>
<line x1="536" y1="189.7" x2="536" y2="287.2" stroke="#EBEBEB" stroke-width="1.1"/>
<line x1="586.94" y1="189.7" x2="586.94" y2="287.2" stroke="#EBEBEB" stroke-width="1.1"/>
<path d="M469.78,252.55 L520.72,230.69 L571.66,219.55" fill="none" stroke="#F8766D" stroke-width="1.7"/>
<path d="M474.88,256.85 L525.81,237.68 L576.75,208.68" fill="none" stroke="#C49A00" stroke-width="1.7"/>
<path d="M479.97,260.68 L530.91,253.53 L581.84,239.24" fill="none" stroke="#53B400" stroke-width="1.7"/>
<path d="M485.06,261.15 L536,255.56 L586.94,245.97" fill="none" stroke="#00C094" stroke-width="1.7"/>
<path d="M490.16,257.37 L541.09,244.16 L592.03,211.27" fill="none" stroke="#00B6EB" stroke-width="1.7"/>
<path d="M495.25,261.15 L546.19,257.37 L597.12,241.31" fill="none" stroke="#A58AFF" stroke-width="1.7"/>
<path d="M500.34,263.22 L551.28,259.44 L602.22,250.48" fill="none" stroke="#FB61D7" stroke-width="1.7"/>
<line x1="469.78" y1="246.95" x2="469.78" y2="258.15" stroke="#F8766D" stroke-width="1.6"/>
<rect x="467.18" y="249.95" width="5.2" height="5.2" fill="none" stroke="#F8766D" stroke-width="1.3"/>
<line x1="520.72" y1="225.09" x2="520.72" y2="236.29" stroke="#F8766D" stroke-width="1.6"/>
<rect x="518.12" y="228.09" width="5.2" height="5.2" fill="none" stroke="#F8766D" stroke-width="1.3"/>
<line x1="571.66" y1="213.95" x2="571.66" y2="225.15" stroke="#F8766D" stroke-width="1.6"/>
<rect x="569.06" y="216.95" width="5.2" height="5.2" fill="none" stroke="#F8766D" stroke-width="1.3"/>
<line x1="474.88" y1="251.25" x2="474.88" y2="262.45" stroke="#C49A00" stroke-width="1.6"/>
<circle cx="474.88" cy="256.85" r="2.9" fill="none" stroke="#C49A00" stroke-width="1.3"/>
<line x1="525.81" y1="232.08" x2="525.81" y2="243.28" stroke="#C49A00" stroke-width="1.6"/>
<circle cx="525.81" cy="237.68" r="2.9" fill="none" stroke="#C49A00" stroke-width="1.3"/>
<line x1="576.75" y1="203.08" x2="576.75" y2="214.28" stroke="#C49A00" stroke-width="1.6"/>
<circle cx="576.75" cy="208.68" r="2.9" fill="none" stroke="#C49A00" stroke-width="1.3"/>
<line x1="479.97" y1="255.08" x2="479.97" y2="266.28" stroke="#53B400" stroke-width="1.6"/>
<path d="M479.97,257.06 L483.16,262.86 L476.78,262.86 Z" fill="none" stroke="#53B400" stroke-width="1.3"/>
<line x1="530.91" y1="247.93" x2="530.91" y2="259.13" stroke="#53B400" stroke-width="1.6"/>
<path d="M530.91,249.91 L534.1,255.71 L527.72,255.71 Z" fill="none" stroke="#53B400" stroke-width="1.3"/>
<line x1="581.84" y1="233.64" x2="581.84" y2="244.84" stroke="#53B400" stroke-width="1.6"/>
<path d="M581.84,235.61 L585.03,241.41 L578.65,241.41 Z" fill="none" stroke="#53B400" stroke-width="1.3"/>
<line x1="485.06" y1="255.55" x2="485.06" y2="266.75" stroke="#00C094" stroke-width="1.6"/>
<path d="M481.58,261.15 H488.54 M485.06,257.67 V264.63" fill="none" stroke="#00C094" stroke-width="1.3"/>
<line x1="536" y1="249.96" x2="536" y2="261.16" stroke="#00C094" stroke-width="1.6"/>
<path d="M532.52,255.56 H539.48 M536,252.08 V259.04" fill="none" stroke="#00C094" stroke-width="1.3"/>
<line x1="586.94" y1="240.37" x2="586.94" y2="251.57" stroke="#00C094" stroke-width="1.6"/>
<path d="M583.46,245.97 H590.42 M586.94,242.49 V249.45" fill="none" stroke="#00C094" stroke-width="1.3"/>
<line x1="490.16" y1="251.77" x2="490.16" y2="262.97" stroke="#00B6EB" stroke-width="1.6"/>
<path d="M487.4,254.61 L492.91,260.12 M487.4,260.12 L492.91,254.61" fill="none" stroke="#00B6EB" stroke-width="1.3"/>
<line x1="541.09" y1="238.56" x2="541.09" y2="249.76" stroke="#00B6EB" stroke-width="1.6"/>
<path d="M538.34,241.4 L543.85,246.91 M538.34,246.91 L543.85,241.4" fill="none" stroke="#00B6EB" stroke-width="1.3"/>
<line x1="592.03" y1="205.67" x2="592.03" y2="216.87" stroke="#00B6EB" stroke-width="1.6"/>
<path d="M589.28,208.51 L594.79,214.02 M589.28,214.02 L594.79,208.51" fill="none" stroke="#00B6EB" stroke-width="1.3"/>
<line x1="495.25" y1="255.55" x2="495.25" y2="266.75" stroke="#A58AFF" stroke-width="1.6"/>
<path d="M495.25,257.52 L498.88,261.15 L495.25,264.77 L491.62,261.15 Z" fill="none" stroke="#A58AFF" stroke-width="1.3"/>
<line x1="546.19" y1="251.77" x2="546.19" y2="262.97" stroke="#A58AFF" stroke-width="1.6"/>
<path d="M546.19,253.74 L549.81,257.37 L546.19,260.99 L542.56,257.37 Z" fill="none" stroke="#A58AFF" stroke-width="1.3"/>
<line x1="597.12" y1="235.71" x2="597.12" y2="246.91" stroke="#A58AFF" stroke-width="1.6"/>
<path d="M597.12,237.69 L600.75,241.31 L597.12,244.94 L593.5,241.31 Z" fill="none" stroke="#A58AFF" stroke-width="1.3"/>
<line x1="500.34" y1="257.62" x2="500.34" y2="268.82" stroke="#FB61D7" stroke-width="1.6"/>
<path d="M500.34,266.85 L503.53,261.05 L497.15,261.05 Z" fill="none" stroke="#FB61D7" stroke-width="1.3"/>
<line x1="551.28" y1="253.84" x2="551.28" y2="265.04" stroke="#FB61D7" stroke-width="1.6"/>
<path d="M551.28,263.06 L554.47,257.26 L548.09,257.26 Z" fill="none" stroke="#FB61D7" stroke-width="1.3"/>
<line x1="602.22" y1="244.88" x2="602.22" y2="256.08" stroke="#FB61D7" stroke-width="1.6"/>
<path d="M602.22,254.1 L605.41,248.3 L599.03,248.3 Z" fill="none" stroke="#FB61D7" stroke-width="1.3"/>
<rect x="454.5" y="187.7" width="163" height="101.5" fill="none" stroke="#000" stroke-width="1.35"/>
<line x1="450.4" y1="269.8" x2="454.5" y2="269.8" stroke="#000" stroke-width="1.2"/>
<text x="447.5" y="272.7" font-size="8" text-anchor="end" fill="#333" stroke="#333" stroke-width="0.3">5</text>
<line x1="450.4" y1="243.9" x2="454.5" y2="243.9" stroke="#000" stroke-width="1.2"/>
<text x="447.5" y="246.8" font-size="8" text-anchor="end" fill="#333" stroke="#333" stroke-width="0.3">10</text>
<line x1="450.4" y1="218" x2="454.5" y2="218" stroke="#000" stroke-width="1.2"/>
<text x="447.5" y="220.9" font-size="8" text-anchor="end" fill="#333" stroke="#333" stroke-width="0.3">15</text>
<line x1="450.4" y1="192.1" x2="454.5" y2="192.1" stroke="#000" stroke-width="1.2"/>
<text x="447.5" y="195" font-size="8" text-anchor="end" fill="#333" stroke="#333" stroke-width="0.3">20</text>
<line x1="485.06" y1="289.2" x2="485.06" y2="293.3" stroke="#000" stroke-width="1.2"/>
<text x="485.06" y="302.2" font-size="8" text-anchor="middle" fill="#333" stroke="#333" stroke-width="0.3">0.1</text>
<line x1="536" y1="289.2" x2="536" y2="293.3" stroke="#000" stroke-width="1.2"/>
<text x="536" y="302.2" font-size="8" text-anchor="middle" fill="#333" stroke="#333" stroke-width="0.3">0.2</text>
<line x1="586.94" y1="289.2" x2="586.94" y2="293.3" stroke="#000" stroke-width="1.2"/>
<text x="586.94" y="302.2" font-size="8" text-anchor="middle" fill="#333" stroke="#333" stroke-width="0.3">0.3</text>
<text x="533.6" y="180.1" font-size="15" text-anchor="middle" stroke="#000" stroke-width="0.35">SHD (n=1000)</text>
<text x="538.6" y="317.7" font-size="12.8" text-anchor="middle" stroke="#000" stroke-width="0.3">beta</text>
<text transform="translate(431,244.35) rotate(-90)" font-size="13" text-anchor="middle" stroke="#000" stroke-width="0.3">SHD</text>
<line x1="38.7" y1="437.62" x2="196.2" y2="437.62" stroke="#EEEEEE" stroke-width="1" stroke-dasharray="1.5,1"/>
<line x1="38.7" y1="401.84" x2="196.2" y2="401.84" stroke="#EEEEEE" stroke-width="1" stroke-dasharray="1.5,1"/>
<line x1="38.7" y1="366.07" x2="196.2" y2="366.07" stroke="#EEEEEE" stroke-width="1" stroke-dasharray="1.5,1"/>
<line x1="38.7" y1="419.73" x2="196.2" y2="419.73" stroke="#EBEBEB" stroke-width="1.1"/>
<line x1="38.7" y1="383.96" x2="196.2" y2="383.96" stroke="#EBEBEB" stroke-width="1.1"/>
<line x1="66.98" y1="356.6" x2="66.98" y2="454.1" stroke="#EBEBEB" stroke-width="1.1"/>
<line x1="117.45" y1="356.6" x2="117.45" y2="454.1" stroke="#EBEBEB" stroke-width="1.1"/>
<line x1="167.92" y1="356.6" x2="167.92" y2="454.1" stroke="#EBEBEB" stroke-width="1.1"/>
<path d="M51.84,366.07 L102.31,369.29 L152.78,376.81" fill="none" stroke="#F8766D" stroke-width="1.7"/>
<path d="M56.89,372.51 L107.36,374.3 L157.82,377.52" fill="none" stroke="#C49A00" stroke-width="1.7"/>
<path d="M61.93,375.73 L112.4,380.74 L162.87,386.46" fill="none" stroke="#53B400" stroke-width="1.7"/>
<path d="M66.98,376.45 L117.45,380.03 L167.92,387.18" fill="none" stroke="#00C094" stroke-width="1.7"/>
<path d="M72.03,373.23 L122.5,373.94 L172.97,376.09" fill="none" stroke="#00B6EB" stroke-width="1.7"/>
<path d="M77.08,378.24 L127.54,380.03 L178.01,385.03" fill="none" stroke="#A58AFF" stroke-width="1.7"/>
<path d="M82.12,378.95 L132.59,381.81 L183.06,386.11" fill="none" stroke="#FB61D7" stroke-width="1.7"/>
<line x1="51.84" y1="358.88" x2="51.84" y2="373.27" stroke="#F8766D" stroke-width="1.6"/>
<rect x="49.24" y="363.48" width="5.2" height="5.2" fill="none" stroke="#F8766D" stroke-width="1.3"/>
<line x1="102.31" y1="362.09" x2="102.31" y2="376.49" stroke="#F8766D" stroke-width="1.6"/>
<rect x="99.71" y="366.69" width="5.2" height="5.2" fill="none" stroke="#F8766D" stroke-width="1.3"/>
<line x1="152.78" y1="369.61" x2="152.78" y2="384.01" stroke="#F8766D" stroke-width="1.6"/>
<rect x="150.18" y="374.21" width="5.2" height="5.2" fill="none" stroke="#F8766D" stroke-width="1.3"/>
<line x1="56.89" y1="365.31" x2="56.89" y2="379.71" stroke="#C49A00" stroke-width="1.6"/>
<circle cx="56.89" cy="372.51" r="2.9" fill="none" stroke="#C49A00" stroke-width="1.3"/>
<line x1="107.36" y1="367.1" x2="107.36" y2="381.5" stroke="#C49A00" stroke-width="1.6"/>
<circle cx="107.36" cy="374.3" r="2.9" fill="none" stroke="#C49A00" stroke-width="1.3"/>
<line x1="157.82" y1="370.32" x2="157.82" y2="384.72" stroke="#C49A00" stroke-width="1.6"/>
<circle cx="157.82" cy="377.52" r="2.9" fill="none" stroke="#C49A00" stroke-width="1.3"/>
<line x1="61.93" y1="368.53" x2="61.93" y2="382.93" stroke="#53B400" stroke-width="1.6"/>
<path d="M61.93,372.11 L65.12,377.91 L58.74,377.91 Z" fill="none" stroke="#53B400" stroke-width="1.3"/>
<line x1="112.4" y1="373.54" x2="112.4" y2="387.94" stroke="#53B400" stroke-width="1.6"/>
<path d="M112.4,377.12 L115.59,382.92 L109.21,382.92 Z" fill="none" stroke="#53B400" stroke-width="1.3"/>
<line x1="162.87" y1="379.26" x2="162.87" y2="393.66" stroke="#53B400" stroke-width="1.6"/>
<path d="M162.87,382.84 L166.06,388.64 L159.68,388.64 Z" fill="none" stroke="#53B400" stroke-width="1.3"/>
<line x1="66.98" y1="369.25" x2="66.98" y2="383.65" stroke="#00C094" stroke-width="1.6"/>
<path d="M63.5,376.45 H70.46 M66.98,372.97 V379.93" fill="none" stroke="#00C094" stroke-width="1.3"/>
<line x1="117.45" y1="372.83" x2="117.45" y2="387.23" stroke="#00C094" stroke-width="1.6"/>
<path d="M113.97,380.03 H120.93 M117.45,376.55 V383.51" fill="none" stroke="#00C094" stroke-width="1.3"/>
<line x1="167.92" y1="379.98" x2="167.92" y2="394.38" stroke="#00C094" stroke-width="1.6"/>
<path d="M164.44,387.18 H171.4 M167.92,383.7 V390.66" fill="none" stroke="#00C094" stroke-width="1.3"/>
<line x1="72.03" y1="366.03" x2="72.03" y2="380.43" stroke="#00B6EB" stroke-width="1.6"/>
<path d="M69.27,370.47 L74.78,375.98 M69.27,375.98 L74.78,370.47" fill="none" stroke="#00B6EB" stroke-width="1.3"/>
<line x1="122.5" y1="366.74" x2="122.5" y2="381.14" stroke="#00B6EB" stroke-width="1.6"/>
<path d="M119.74,371.19 L125.25,376.7 M119.74,376.7 L125.25,371.19" fill="none" stroke="#00B6EB" stroke-width="1.3"/>
<line x1="172.97" y1="368.89" x2="172.97" y2="383.29" stroke="#00B6EB" stroke-width="1.6"/>
<path d="M170.21,373.34 L175.72,378.85 M170.21,378.85 L175.72,373.34" fill="none" stroke="#00B6EB" stroke-width="1.3"/>
<line x1="77.08" y1="371.04" x2="77.08" y2="385.44" stroke="#A58AFF" stroke-width="1.6"/>
<path d="M77.08,374.61 L80.7,378.24 L77.08,381.86 L73.45,378.24 Z" fill="none" stroke="#A58AFF" stroke-width="1.3"/>
<line x1="127.54" y1="372.83" x2="127.54" y2="387.23" stroke="#A58AFF" stroke-width="1.6"/>
<path d="M127.54,376.4 L131.17,380.03 L127.54,383.65 L123.92,380.03 Z" fill="none" stroke="#A58AFF" stroke-width="1.3"/>
<line x1="178.01" y1="377.83" x2="178.01" y2="392.23" stroke="#A58AFF" stroke-width="1.6"/>
<path d="M178.01,381.41 L181.64,385.03 L178.01,388.66 L174.39,385.03 Z" fill="none" stroke="#A58AFF" stroke-width="1.3"/>
<line x1="82.12" y1="371.75" x2="82.12" y2="386.15" stroke="#FB61D7" stroke-width="1.6"/>
<path d="M82.12,382.58 L85.31,376.78 L78.93,376.78 Z" fill="none" stroke="#FB61D7" stroke-width="1.3"/>
<line x1="132.59" y1="374.61" x2="132.59" y2="389.01" stroke="#FB61D7" stroke-width="1.6"/>
<path d="M132.59,385.44 L135.78,379.64 L129.4,379.64 Z" fill="none" stroke="#FB61D7" stroke-width="1.3"/>
<line x1="183.06" y1="378.91" x2="183.06" y2="393.31" stroke="#FB61D7" stroke-width="1.6"/>
<path d="M183.06,389.73 L186.25,383.93 L179.87,383.93 Z" fill="none" stroke="#FB61D7" stroke-width="1.3"/>
<rect x="36.7" y="354.6" width="161.5" height="101.5" fill="none" stroke="#000" stroke-width="1.35"/>
<line x1="32.6" y1="455.5" x2="36.7" y2="455.5" stroke="#000" stroke-width="1.2"/>
<text x="29.7" y="458.4" font-size="8" text-anchor="end" fill="#333" stroke="#333" stroke-width="0.3">0.7</text>
<line x1="32.6" y1="419.73" x2="36.7" y2="419.73" stroke="#000" stroke-width="1.2"/>
<text x="29.7" y="422.63" font-size="8" text-anchor="end" fill="#333" stroke="#333" stroke-width="0.3">0.8</text>
<line x1="32.6" y1="383.96" x2="36.7" y2="383.96" stroke="#000" stroke-width="1.2"/>
<text x="29.7" y="386.86" font-size="8" text-anchor="end" fill="#333" stroke="#333" stroke-width="0.3">0.9</text>
<line x1="66.98" y1="456.1" x2="66.98" y2="460.2" stroke="#000" stroke-width="1.2"/>
<text x="66.98" y="469.1" font-size="8" text-anchor="middle" fill="#333" stroke="#333" stroke-width="0.3">0.1</text>
<line x1="117.45" y1="456.1" x2="117.45" y2="460.2" stroke="#000" stroke-width="1.2"/>
<text x="117.45" y="469.1" font-size="8" text-anchor="middle" fill="#333" stroke="#333" stroke-width="0.3">0.2</text>
<line x1="167.92" y1="456.1" x2="167.92" y2="460.2" stroke="#000" stroke-width="1.2"/>
<text x="167.92" y="469.1" font-size="8" text-anchor="middle" fill="#333" stroke="#333" stroke-width="0.3">0.3</text>
<text x="115.05" y="347" font-size="15" text-anchor="middle" stroke="#000" stroke-width="0.35">TPR (n=2000)</text>
<text x="120.05" y="484.6" font-size="12.8" text-anchor="middle" stroke="#000" stroke-width="0.3">beta</text>
<text transform="translate(11.7,411.25) rotate(-90)" font-size="13" text-anchor="middle" stroke="#000" stroke-width="0.3">TPR</text>
<line x1="252.6" y1="436.79" x2="406" y2="436.79" stroke="#EEEEEE" stroke-width="1" stroke-dasharray="1.5,1"/>
<line x1="252.6" y1="406.88" x2="406" y2="406.88" stroke="#EEEEEE" stroke-width="1" stroke-dasharray="1.5,1"/>
<line x1="252.6" y1="376.96" x2="406" y2="376.96" stroke="#EEEEEE" stroke-width="1" stroke-dasharray="1.5,1"/>
<line x1="252.6" y1="451.75" x2="406" y2="451.75" stroke="#EBEBEB" stroke-width="1.1"/>
<line x1="252.6" y1="421.83" x2="406" y2="421.83" stroke="#EBEBEB" stroke-width="1.1"/>
<line x1="252.6" y1="391.92" x2="406" y2="391.92" stroke="#EBEBEB" stroke-width="1.1"/>
<line x1="252.6" y1="362" x2="406" y2="362" stroke="#EBEBEB" stroke-width="1.1"/>
<line x1="280.11" y1="356.6" x2="280.11" y2="454.1" stroke="#EBEBEB" stroke-width="1.1"/>
<line x1="329.3" y1="356.6" x2="329.3" y2="454.1" stroke="#EBEBEB" stroke-width="1.1"/>
<line x1="378.49" y1="356.6" x2="378.49" y2="454.1" stroke="#EBEBEB" stroke-width="1.1"/>
<path d="M265.36,420.64 L314.54,404.33 L363.73,397.6" fill="none" stroke="#F8766D" stroke-width="1.7"/>
<path d="M270.27,426.02 L319.46,405.83 L368.65,365.89" fill="none" stroke="#C49A00" stroke-width="1.7"/>
<path d="M275.19,433.95 L324.38,433.35 L373.57,422.13" fill="none" stroke="#53B400" stroke-width="1.7"/>
<path d="M280.11,434.85 L329.3,434.55 L378.49,430.36" fill="none" stroke="#00C094" stroke-width="1.7"/>
<path d="M285.03,429.01 L334.22,411.81 L383.41,372.62" fill="none" stroke="#00B6EB" stroke-width="1.7"/>
<path d="M289.95,441.43 L339.14,437.84 L388.33,427.52" fill="none" stroke="#A58AFF" stroke-width="1.7"/>
<path d="M294.87,446.66 L344.06,444.87 L393.24,440.53" fill="none" stroke="#FB61D7" stroke-width="1.7"/>
<line x1="265.36" y1="416.58" x2="265.36" y2="424.69" stroke="#F8766D" stroke-width="1.6"/>
<rect x="262.76" y="418.04" width="5.2" height="5.2" fill="none" stroke="#F8766D" stroke-width="1.3"/>
<line x1="314.54" y1="399.46" x2="314.54" y2="409.2" stroke="#F8766D" stroke-width="1.6"/>
<rect x="311.94" y="401.73" width="5.2" height="5.2" fill="none" stroke="#F8766D" stroke-width="1.3"/>
<line x1="363.73" y1="392.39" x2="363.73" y2="402.81" stroke="#F8766D" stroke-width="1.6"/>
<rect x="361.13" y="395" width="5.2" height="5.2" fill="none" stroke="#F8766D" stroke-width="1.3"/>
<line x1="270.27" y1="422.24" x2="270.27" y2="429.81" stroke="#C49A00" stroke-width="1.6"/>
<circle cx="270.27" cy="426.02" r="2.9" fill="none" stroke="#C49A00" stroke-width="1.3"/>
<line x1="319.46" y1="401.03" x2="319.46" y2="410.62" stroke="#C49A00" stroke-width="1.6"/>
<circle cx="319.46" cy="405.83" r="2.9" fill="none" stroke="#C49A00" stroke-width="1.3"/>
<line x1="368.65" y1="359.1" x2="368.65" y2="372.68" stroke="#C49A00" stroke-width="1.6"/>
<circle cx="368.65" cy="365.89" r="2.9" fill="none" stroke="#C49A00" stroke-width="1.3"/>
<line x1="275.19" y1="430.56" x2="275.19" y2="437.34" stroke="#53B400" stroke-width="1.6"/>
<path d="M275.19,430.32 L278.38,436.12 L272,436.12 Z" fill="none" stroke="#53B400" stroke-width="1.3"/>
<line x1="324.38" y1="429.93" x2="324.38" y2="436.77" stroke="#53B400" stroke-width="1.6"/>
<path d="M324.38,429.73 L327.57,435.53 L321.19,435.53 Z" fill="none" stroke="#53B400" stroke-width="1.3"/>
<line x1="373.57" y1="418.15" x2="373.57" y2="426.11" stroke="#53B400" stroke-width="1.6"/>
<path d="M373.57,418.51 L376.76,424.31 L370.38,424.31 Z" fill="none" stroke="#53B400" stroke-width="1.3"/>
<line x1="280.11" y1="431.5" x2="280.11" y2="438.19" stroke="#00C094" stroke-width="1.6"/>
<path d="M276.63,434.85 H283.59 M280.11,431.37 V438.33" fill="none" stroke="#00C094" stroke-width="1.3"/>
<line x1="329.3" y1="431.19" x2="329.3" y2="437.91" stroke="#00C094" stroke-width="1.6"/>
<path d="M325.82,434.55 H332.78 M329.3,431.07 V438.03" fill="none" stroke="#00C094" stroke-width="1.3"/>
<line x1="378.49" y1="426.79" x2="378.49" y2="433.93" stroke="#00C094" stroke-width="1.6"/>
<path d="M375.01,430.36 H381.97 M378.49,426.88 V433.84" fill="none" stroke="#00C094" stroke-width="1.3"/>
<line x1="285.03" y1="425.38" x2="285.03" y2="432.65" stroke="#00B6EB" stroke-width="1.6"/>
<path d="M282.28,426.26 L287.79,431.77 M282.28,431.77 L287.79,426.26" fill="none" stroke="#00B6EB" stroke-width="1.3"/>
<line x1="334.22" y1="407.31" x2="334.22" y2="416.31" stroke="#00B6EB" stroke-width="1.6"/>
<path d="M331.46,409.06 L336.97,414.57 M331.46,414.57 L336.97,409.06" fill="none" stroke="#00B6EB" stroke-width="1.3"/>
<line x1="383.41" y1="366.16" x2="383.41" y2="379.08" stroke="#00B6EB" stroke-width="1.6"/>
<path d="M380.65,369.87 L386.16,375.38 M380.65,375.38 L386.16,369.87" fill="none" stroke="#00B6EB" stroke-width="1.3"/>
<line x1="289.95" y1="438.41" x2="289.95" y2="444.44" stroke="#A58AFF" stroke-width="1.6"/>
<path d="M289.95,437.8 L293.57,441.43 L289.95,445.05 L286.32,441.43 Z" fill="none" stroke="#A58AFF" stroke-width="1.3"/>
<line x1="339.14" y1="434.64" x2="339.14" y2="441.03" stroke="#A58AFF" stroke-width="1.6"/>
<path d="M339.14,434.21 L342.76,437.84 L339.14,441.46 L335.51,437.84 Z" fill="none" stroke="#A58AFF" stroke-width="1.3"/>
<line x1="388.33" y1="423.81" x2="388.33" y2="431.23" stroke="#A58AFF" stroke-width="1.6"/>
<path d="M388.33,423.89 L391.95,427.52 L388.33,431.14 L384.7,427.52 Z" fill="none" stroke="#A58AFF" stroke-width="1.3"/>
<line x1="294.87" y1="443.66" x2="294.87" y2="449.66" stroke="#FB61D7" stroke-width="1.6"/>
<path d="M294.87,450.29 L298.06,444.49 L291.68,444.49 Z" fill="none" stroke="#FB61D7" stroke-width="1.3"/>
<line x1="344.06" y1="441.87" x2="344.06" y2="447.87" stroke="#FB61D7" stroke-width="1.6"/>
<path d="M344.06,448.49 L347.25,442.69 L340.87,442.69 Z" fill="none" stroke="#FB61D7" stroke-width="1.3"/>
<line x1="393.24" y1="437.47" x2="393.24" y2="443.59" stroke="#FB61D7" stroke-width="1.6"/>
<path d="M393.24,444.16 L396.43,438.36 L390.05,438.36 Z" fill="none" stroke="#FB61D7" stroke-width="1.3"/>
<rect x="250.6" y="354.6" width="157.4" height="101.5" fill="none" stroke="#000" stroke-width="1.35"/>
<line x1="246.5" y1="451.75" x2="250.6" y2="451.75" stroke="#000" stroke-width="1.2"/>
<text x="243.6" y="454.65" font-size="8" text-anchor="end" fill="#333" stroke="#333" stroke-width="0.3">0.00</text>
<line x1="246.5" y1="421.83" x2="250.6" y2="421.83" stroke="#000" stroke-width="1.2"/>
<text x="243.6" y="424.73" font-size="8" text-anchor="end" fill="#333" stroke="#333" stroke-width="0.3">0.02</text>
<line x1="246.5" y1="391.92" x2="250.6" y2="391.92" stroke="#000" stroke-width="1.2"/>
<text x="243.6" y="394.82" font-size="8" text-anchor="end" fill="#333" stroke="#333" stroke-width="0.3">0.04</text>
<line x1="246.5" y1="362" x2="250.6" y2="362" stroke="#000" stroke-width="1.2"/>
<text x="243.6" y="364.9" font-size="8" text-anchor="end" fill="#333" stroke="#333" stroke-width="0.3">0.06</text>
<line x1="280.11" y1="456.1" x2="280.11" y2="460.2" stroke="#000" stroke-width="1.2"/>
<text x="280.11" y="469.1" font-size="8" text-anchor="middle" fill="#333" stroke="#333" stroke-width="0.3">0.1</text>
<line x1="329.3" y1="456.1" x2="329.3" y2="460.2" stroke="#000" stroke-width="1.2"/>
<text x="329.3" y="469.1" font-size="8" text-anchor="middle" fill="#333" stroke="#333" stroke-width="0.3">0.2</text>
<line x1="378.49" y1="456.1" x2="378.49" y2="460.2" stroke="#000" stroke-width="1.2"/>
<text x="378.49" y="469.1" font-size="8" text-anchor="middle" fill="#333" stroke="#333" stroke-width="0.3">0.3</text>
<text x="326.9" y="347" font-size="15" text-anchor="middle" stroke="#000" stroke-width="0.35">FPR (n=2000)</text>
<text x="331.9" y="484.6" font-size="12.8" text-anchor="middle" stroke="#000" stroke-width="0.3">beta</text>
<text transform="translate(221.5,411.25) rotate(-90)" font-size="13" text-anchor="middle" stroke="#000" stroke-width="0.3">FPR</text>
<line x1="456.5" y1="449.28" x2="615.5" y2="449.28" stroke="#EEEEEE" stroke-width="1" stroke-dasharray="1.5,1"/>
<line x1="456.5" y1="423.52" x2="615.5" y2="423.52" stroke="#EEEEEE" stroke-width="1" stroke-dasharray="1.5,1"/>
<line x1="456.5" y1="397.75" x2="615.5" y2="397.75" stroke="#EEEEEE" stroke-width="1" stroke-dasharray="1.5,1"/>
<line x1="456.5" y1="371.98" x2="615.5" y2="371.98" stroke="#EEEEEE" stroke-width="1" stroke-dasharray="1.5,1"/>
<line x1="456.5" y1="436.4" x2="615.5" y2="436.4" stroke="#EBEBEB" stroke-width="1.1"/>
<line x1="456.5" y1="410.63" x2="615.5" y2="410.63" stroke="#EBEBEB" stroke-width="1.1"/>
<line x1="456.5" y1="384.87" x2="615.5" y2="384.87" stroke="#EBEBEB" stroke-width="1.1"/>
<line x1="456.5" y1="359.1" x2="615.5" y2="359.1" stroke="#EBEBEB" stroke-width="1.1"/>
<line x1="485.06" y1="356.6" x2="485.06" y2="454.1" stroke="#EBEBEB" stroke-width="1.1"/>
<line x1="536" y1="356.6" x2="536" y2="454.1" stroke="#EBEBEB" stroke-width="1.1"/>
<line x1="586.94" y1="356.6" x2="586.94" y2="454.1" stroke="#EBEBEB" stroke-width="1.1"/>
<path d="M469.78,423.67 L520.72,406.77 L571.66,394.92" fill="none" stroke="#F8766D" stroke-width="1.7"/>
<path d="M474.88,427.38 L525.81,410.63 L576.75,379.4" fill="none" stroke="#C49A00" stroke-width="1.7"/>
<path d="M479.97,433 L530.91,426.81 L581.84,414.65" fill="none" stroke="#53B400" stroke-width="1.7"/>
<path d="M485.06,432.43 L536,427.95 L586.94,420.32" fill="none" stroke="#00C094" stroke-width="1.7"/>
<path d="M490.16,429.6 L541.09,415.53 L592.03,385.64" fill="none" stroke="#00B6EB" stroke-width="1.7"/>
<path d="M495.25,434.44 L546.19,429.6 L597.12,418.36" fill="none" stroke="#A58AFF" stroke-width="1.7"/>
<path d="M500.34,437.79 L551.28,434.44 L602.22,426.81" fill="none" stroke="#FB61D7" stroke-width="1.7"/>
<line x1="469.78" y1="418.07" x2="469.78" y2="429.27" stroke="#F8766D" stroke-width="1.6"/>
<rect x="467.18" y="421.07" width="5.2" height="5.2" fill="none" stroke="#F8766D" stroke-width="1.3"/>
<line x1="520.72" y1="401.17" x2="520.72" y2="412.37" stroke="#F8766D" stroke-width="1.6"/>
<rect x="518.12" y="404.17" width="5.2" height="5.2" fill="none" stroke="#F8766D" stroke-width="1.3"/>
<line x1="571.66" y1="389.32" x2="571.66" y2="400.52" stroke="#F8766D" stroke-width="1.6"/>
<rect x="569.06" y="392.32" width="5.2" height="5.2" fill="none" stroke="#F8766D" stroke-width="1.3"/>
<line x1="474.88" y1="421.78" x2="474.88" y2="432.98" stroke="#C49A00" stroke-width="1.6"/>
<circle cx="474.88" cy="427.38" r="2.9" fill="none" stroke="#C49A00" stroke-width="1.3"/>
<line x1="525.81" y1="405.03" x2="525.81" y2="416.23" stroke="#C49A00" stroke-width="1.6"/>
<circle cx="525.81" cy="410.63" r="2.9" fill="none" stroke="#C49A00" stroke-width="1.3"/>
<line x1="576.75" y1="373.8" x2="576.75" y2="385" stroke="#C49A00" stroke-width="1.6"/>
<circle cx="576.75" cy="379.4" r="2.9" fill="none" stroke="#C49A00" stroke-width="1.3"/>
<line x1="479.97" y1="427.4" x2="479.97" y2="438.6" stroke="#53B400" stroke-width="1.6"/>
<path d="M479.97,429.37 L483.16,435.17 L476.78,435.17 Z" fill="none" stroke="#53B400" stroke-width="1.3"/>
<line x1="530.91" y1="421.21" x2="530.91" y2="432.41" stroke="#53B400" stroke-width="1.6"/>
<path d="M530.91,423.19 L534.1,428.99 L527.72,428.99 Z" fill="none" stroke="#53B400" stroke-width="1.3"/>
<line x1="581.84" y1="409.05" x2="581.84" y2="420.25" stroke="#53B400" stroke-width="1.6"/>
<path d="M581.84,411.03 L585.03,416.83 L578.65,416.83 Z" fill="none" stroke="#53B400" stroke-width="1.3"/>
<line x1="485.06" y1="426.83" x2="485.06" y2="438.03" stroke="#00C094" stroke-width="1.6"/>
<path d="M481.58,432.43 H488.54 M485.06,428.95 V435.91" fill="none" stroke="#00C094" stroke-width="1.3"/>
<line x1="536" y1="422.35" x2="536" y2="433.55" stroke="#00C094" stroke-width="1.6"/>
<path d="M532.52,427.95 H539.48 M536,424.47 V431.43" fill="none" stroke="#00C094" stroke-width="1.3"/>
<line x1="586.94" y1="414.72" x2="586.94" y2="425.92" stroke="#00C094" stroke-width="1.6"/>
<path d="M583.46,420.32 H590.42 M586.94,416.84 V423.8" fill="none" stroke="#00C094" stroke-width="1.3"/>
<line x1="490.16" y1="424" x2="490.16" y2="435.2" stroke="#00B6EB" stroke-width="1.6"/>
<path d="M487.4,426.84 L492.91,432.35 M487.4,432.35 L492.91,426.84" fill="none" stroke="#00B6EB" stroke-width="1.3"/>
<line x1="541.09" y1="409.93" x2="541.09" y2="421.13" stroke="#00B6EB" stroke-width="1.6"/>
<path d="M538.34,412.77 L543.85,418.28 M538.34,418.28 L543.85,412.77" fill="none" stroke="#00B6EB" stroke-width="1.3"/>
<line x1="592.03" y1="380.04" x2="592.03" y2="391.24" stroke="#00B6EB" stroke-width="1.6"/>
<path d="M589.28,382.88 L594.79,388.39 M589.28,388.39 L594.79,382.88" fill="none" stroke="#00B6EB" stroke-width="1.3"/>
<line x1="495.25" y1="428.84" x2="495.25" y2="440.04" stroke="#A58AFF" stroke-width="1.6"/>
<path d="M495.25,430.82 L498.88,434.44 L495.25,438.07 L491.62,434.44 Z" fill="none" stroke="#A58AFF" stroke-width="1.3"/>
<line x1="546.19" y1="424" x2="546.19" y2="435.2" stroke="#A58AFF" stroke-width="1.6"/>
<path d="M546.19,425.97 L549.81,429.6 L546.19,433.22 L542.56,429.6 Z" fill="none" stroke="#A58AFF" stroke-width="1.3"/>
<line x1="597.12" y1="412.76" x2="597.12" y2="423.96" stroke="#A58AFF" stroke-width="1.6"/>
<path d="M597.12,414.74 L600.75,418.36 L597.12,421.99 L593.5,418.36 Z" fill="none" stroke="#A58AFF" stroke-width="1.3"/>
<line x1="500.34" y1="432.19" x2="500.34" y2="443.39" stroke="#FB61D7" stroke-width="1.6"/>
<path d="M500.34,441.42 L503.53,435.62 L497.15,435.62 Z" fill="none" stroke="#FB61D7" stroke-width="1.3"/>
<line x1="551.28" y1="428.84" x2="551.28" y2="440.04" stroke="#FB61D7" stroke-width="1.6"/>
<path d="M551.28,438.07 L554.47,432.27 L548.09,432.27 Z" fill="none" stroke="#FB61D7" stroke-width="1.3"/>
<line x1="602.22" y1="421.21" x2="602.22" y2="432.41" stroke="#FB61D7" stroke-width="1.6"/>
<path d="M602.22,430.44 L605.41,424.64 L599.03,424.64 Z" fill="none" stroke="#FB61D7" stroke-width="1.3"/>
<rect x="454.5" y="354.6" width="163" height="101.5" fill="none" stroke="#000" stroke-width="1.35"/>
<line x1="450.4" y1="436.4" x2="454.5" y2="436.4" stroke="#000" stroke-width="1.2"/>
<text x="447.5" y="439.3" font-size="8" text-anchor="end" fill="#333" stroke="#333" stroke-width="0.3">5</text>
<line x1="450.4" y1="410.63" x2="454.5" y2="410.63" stroke="#000" stroke-width="1.2"/>
<text x="447.5" y="413.53" font-size="8" text-anchor="end" fill="#333" stroke="#333" stroke-width="0.3">10</text>
<line x1="450.4" y1="384.87" x2="454.5" y2="384.87" stroke="#000" stroke-width="1.2"/>
<text x="447.5" y="387.77" font-size="8" text-anchor="end" fill="#333" stroke="#333" stroke-width="0.3">15</text>
<line x1="450.4" y1="359.1" x2="454.5" y2="359.1" stroke="#000" stroke-width="1.2"/>
<text x="447.5" y="362" font-size="8" text-anchor="end" fill="#333" stroke="#333" stroke-width="0.3">20</text>
<line x1="485.06" y1="456.1" x2="485.06" y2="460.2" stroke="#000" stroke-width="1.2"/>
<text x="485.06" y="469.1" font-size="8" text-anchor="middle" fill="#333" stroke="#333" stroke-width="0.3">0.1</text>
<line x1="536" y1="456.1" x2="536" y2="460.2" stroke="#000" stroke-width="1.2"/>
<text x="536" y="469.1" font-size="8" text-anchor="middle" fill="#333" stroke="#333" stroke-width="0.3">0.2</text>
<line x1="586.94" y1="456.1" x2="586.94" y2="460.2" stroke="#000" stroke-width="1.2"/>
<text x="586.94" y="469.1" font-size="8" text-anchor="middle" fill="#333" stroke="#333" stroke-width="0.3">0.3</text>
<text x="533.6" y="347" font-size="15" text-anchor="middle" stroke="#000" stroke-width="0.35">SHD (n=2000)</text>
<text x="538.6" y="484.6" font-size="12.8" text-anchor="middle" stroke="#000" stroke-width="0.3">beta</text>
<text transform="translate(431,411.25) rotate(-90)" font-size="13" text-anchor="middle" stroke="#000" stroke-width="0.3">SHD</text>
<line x1="43.4" y1="634.24" x2="196.4" y2="634.24" stroke="#EEEEEE" stroke-width="1" stroke-dasharray="1.5,1"/>
<line x1="43.4" y1="613.31" x2="196.4" y2="613.31" stroke="#EEEEEE" stroke-width="1" stroke-dasharray="1.5,1"/>
<line x1="43.4" y1="592.39" x2="196.4" y2="592.39" stroke="#EEEEEE" stroke-width="1" stroke-dasharray="1.5,1"/>
<line x1="43.4" y1="571.46" x2="196.4" y2="571.46" stroke="#EEEEEE" stroke-width="1" stroke-dasharray="1.5,1"/>
<line x1="43.4" y1="550.54" x2="196.4" y2="550.54" stroke="#EEEEEE" stroke-width="1" stroke-dasharray="1.5,1"/>
<line x1="43.4" y1="644.7" x2="196.4" y2="644.7" stroke="#EBEBEB" stroke-width="1.1"/>
<line x1="43.4" y1="623.77" x2="196.4" y2="623.77" stroke="#EBEBEB" stroke-width="1.1"/>
<line x1="43.4" y1="602.85" x2="196.4" y2="602.85" stroke="#EBEBEB" stroke-width="1.1"/>
<line x1="43.4" y1="581.92" x2="196.4" y2="581.92" stroke="#EBEBEB" stroke-width="1.1"/>
<line x1="43.4" y1="561" x2="196.4" y2="561" stroke="#EBEBEB" stroke-width="1.1"/>
<line x1="70.84" y1="549.3" x2="70.84" y2="646.8" stroke="#EBEBEB" stroke-width="1.1"/>
<line x1="119.9" y1="549.3" x2="119.9" y2="646.8" stroke="#EBEBEB" stroke-width="1.1"/>
<line x1="168.96" y1="549.3" x2="168.96" y2="646.8" stroke="#EBEBEB" stroke-width="1.1"/>
<path d="M56.12,603.27 L105.18,612.06 L154.24,624.61" fill="none" stroke="#F8766D" stroke-width="1.7"/>
<path d="M61.02,594.9 L110.09,598.66 L159.15,607.04" fill="none" stroke="#C49A00" stroke-width="1.7"/>
<path d="M65.93,598.66 L114.99,605.78 L164.06,614.15" fill="none" stroke="#53B400" stroke-width="1.7"/>
<path d="M70.84,599.5 L119.9,607.04 L168.96,616.24" fill="none" stroke="#00C094" stroke-width="1.7"/>
<path d="M75.74,596.57 L124.81,597.83 L173.87,602.01" fill="none" stroke="#00B6EB" stroke-width="1.7"/>
<path d="M80.65,606.62 L129.71,609.96 L178.78,622.52" fill="none" stroke="#A58AFF" stroke-width="1.7"/>
<path d="M85.56,611.64 L134.62,614.15 L183.68,627.12" fill="none" stroke="#FB61D7" stroke-width="1.7"/>
<line x1="56.12" y1="596.47" x2="56.12" y2="610.07" stroke="#F8766D" stroke-width="1.6"/>
<rect x="53.52" y="600.67" width="5.2" height="5.2" fill="none" stroke="#F8766D" stroke-width="1.3"/>
<line x1="105.18" y1="605.26" x2="105.18" y2="618.86" stroke="#F8766D" stroke-width="1.6"/>
<rect x="102.58" y="609.46" width="5.2" height="5.2" fill="none" stroke="#F8766D" stroke-width="1.3"/>
<line x1="154.24" y1="617.81" x2="154.24" y2="631.41" stroke="#F8766D" stroke-width="1.6"/>
<rect x="151.64" y="622.01" width="5.2" height="5.2" fill="none" stroke="#F8766D" stroke-width="1.3"/>
<line x1="61.02" y1="588.1" x2="61.02" y2="601.7" stroke="#C49A00" stroke-width="1.6"/>
<circle cx="61.02" cy="594.9" r="2.9" fill="none" stroke="#C49A00" stroke-width="1.3"/>
<line x1="110.09" y1="591.87" x2="110.09" y2="605.46" stroke="#C49A00" stroke-width="1.6"/>
<circle cx="110.09" cy="598.66" r="2.9" fill="none" stroke="#C49A00" stroke-width="1.3"/>
<line x1="159.15" y1="600.24" x2="159.15" y2="613.84" stroke="#C49A00" stroke-width="1.6"/>
<circle cx="159.15" cy="607.04" r="2.9" fill="none" stroke="#C49A00" stroke-width="1.3"/>
<line x1="65.93" y1="591.87" x2="65.93" y2="605.46" stroke="#53B400" stroke-width="1.6"/>
<path d="M65.93,595.04 L69.12,600.84 L62.74,600.84 Z" fill="none" stroke="#53B400" stroke-width="1.3"/>
<line x1="114.99" y1="598.98" x2="114.99" y2="612.58" stroke="#53B400" stroke-width="1.6"/>
<path d="M114.99,602.15 L118.18,607.95 L111.8,607.95 Z" fill="none" stroke="#53B400" stroke-width="1.3"/>
<line x1="164.06" y1="607.35" x2="164.06" y2="620.95" stroke="#53B400" stroke-width="1.6"/>
<path d="M164.06,610.52 L167.25,616.32 L160.87,616.32 Z" fill="none" stroke="#53B400" stroke-width="1.3"/>
<line x1="70.84" y1="592.7" x2="70.84" y2="606.3" stroke="#00C094" stroke-width="1.6"/>
<path d="M67.36,599.5 H74.32 M70.84,596.02 V602.98" fill="none" stroke="#00C094" stroke-width="1.3"/>
<line x1="119.9" y1="600.24" x2="119.9" y2="613.84" stroke="#00C094" stroke-width="1.6"/>
<path d="M116.42,607.04 H123.38 M119.9,603.56 V610.52" fill="none" stroke="#00C094" stroke-width="1.3"/>
<line x1="168.96" y1="609.44" x2="168.96" y2="623.04" stroke="#00C094" stroke-width="1.6"/>
<path d="M165.48,616.24 H172.44 M168.96,612.76 V619.72" fill="none" stroke="#00C094" stroke-width="1.3"/>
<line x1="75.74" y1="589.77" x2="75.74" y2="603.37" stroke="#00B6EB" stroke-width="1.6"/>
<path d="M72.99,593.82 L78.5,599.33 M72.99,599.33 L78.5,593.82" fill="none" stroke="#00B6EB" stroke-width="1.3"/>
<line x1="124.81" y1="591.03" x2="124.81" y2="604.63" stroke="#00B6EB" stroke-width="1.6"/>
<path d="M122.05,595.07 L127.56,600.58 M122.05,600.58 L127.56,595.07" fill="none" stroke="#00B6EB" stroke-width="1.3"/>
<line x1="173.87" y1="595.21" x2="173.87" y2="608.81" stroke="#00B6EB" stroke-width="1.6"/>
<path d="M171.11,599.26 L176.62,604.77 M171.11,604.77 L176.62,599.26" fill="none" stroke="#00B6EB" stroke-width="1.3"/>
<line x1="80.65" y1="599.82" x2="80.65" y2="613.42" stroke="#A58AFF" stroke-width="1.6"/>
<path d="M80.65,602.99 L84.28,606.62 L80.65,610.24 L77.03,606.62 Z" fill="none" stroke="#A58AFF" stroke-width="1.3"/>
<line x1="129.71" y1="603.16" x2="129.71" y2="616.76" stroke="#A58AFF" stroke-width="1.6"/>
<path d="M129.71,606.34 L133.34,609.96 L129.71,613.59 L126.09,609.96 Z" fill="none" stroke="#A58AFF" stroke-width="1.3"/>
<line x1="178.78" y1="615.72" x2="178.78" y2="629.32" stroke="#A58AFF" stroke-width="1.6"/>
<path d="M178.78,618.89 L182.4,622.52 L178.78,626.14 L175.15,622.52 Z" fill="none" stroke="#A58AFF" stroke-width="1.3"/>
<line x1="85.56" y1="604.84" x2="85.56" y2="618.44" stroke="#FB61D7" stroke-width="1.6"/>
<path d="M85.56,615.26 L88.75,609.46 L82.37,609.46 Z" fill="none" stroke="#FB61D7" stroke-width="1.3"/>
<line x1="134.62" y1="607.35" x2="134.62" y2="620.95" stroke="#FB61D7" stroke-width="1.6"/>
<path d="M134.62,617.77 L137.81,611.97 L131.43,611.97 Z" fill="none" stroke="#FB61D7" stroke-width="1.3"/>
<line x1="183.68" y1="620.32" x2="183.68" y2="633.92" stroke="#FB61D7" stroke-width="1.6"/>
<path d="M183.68,630.75 L186.87,624.95 L180.49,624.95 Z" fill="none" stroke="#FB61D7" stroke-width="1.3"/>
<rect x="41.4" y="547.3" width="157" height="101.5" fill="none" stroke="#000" stroke-width="1.35"/>
<line x1="37.3" y1="644.7" x2="41.4" y2="644.7" stroke="#000" stroke-width="1.2"/>
<text x="34.4" y="647.6" font-size="8" text-anchor="end" fill="#333" stroke="#333" stroke-width="0.3">0.75</text>
<line x1="37.3" y1="623.77" x2="41.4" y2="623.77" stroke="#000" stroke-width="1.2"/>
<text x="34.4" y="626.67" font-size="8" text-anchor="end" fill="#333" stroke="#333" stroke-width="0.3">0.80</text>
<line x1="37.3" y1="602.85" x2="41.4" y2="602.85" stroke="#000" stroke-width="1.2"/>
<text x="34.4" y="605.75" font-size="8" text-anchor="end" fill="#333" stroke="#333" stroke-width="0.3">0.85</text>
<line x1="37.3" y1="581.92" x2="41.4" y2="581.92" stroke="#000" stroke-width="1.2"/>
<text x="34.4" y="584.82" font-size="8" text-anchor="end" fill="#333" stroke="#333" stroke-width="0.3">0.90</text>
<line x1="37.3" y1="561" x2="41.4" y2="561" stroke="#000" stroke-width="1.2"/>
<text x="34.4" y="563.9" font-size="8" text-anchor="end" fill="#333" stroke="#333" stroke-width="0.3">0.95</text>
<line x1="70.84" y1="648.8" x2="70.84" y2="652.9" stroke="#000" stroke-width="1.2"/>
<text x="70.84" y="661.8" font-size="8" text-anchor="middle" fill="#333" stroke="#333" stroke-width="0.3">0.1</text>
<line x1="119.9" y1="648.8" x2="119.9" y2="652.9" stroke="#000" stroke-width="1.2"/>
<text x="119.9" y="661.8" font-size="8" text-anchor="middle" fill="#333" stroke="#333" stroke-width="0.3">0.2</text>
<line x1="168.96" y1="648.8" x2="168.96" y2="652.9" stroke="#000" stroke-width="1.2"/>
<text x="168.96" y="661.8" font-size="8" text-anchor="middle" fill="#333" stroke="#333" stroke-width="0.3">0.3</text>
<text x="117.5" y="539.7" font-size="15" text-anchor="middle" stroke="#000" stroke-width="0.35">TPR (n=500)</text>
<text x="122.5" y="677.3" font-size="12.8" text-anchor="middle" stroke="#000" stroke-width="0.3">beta</text>
<text transform="translate(11.8,603.95) rotate(-90)" font-size="13" text-anchor="middle" stroke="#000" stroke-width="0.3">TPR</text>
<line x1="252.6" y1="634.46" x2="405.9" y2="634.46" stroke="#EEEEEE" stroke-width="1" stroke-dasharray="1.5,1"/>
<line x1="252.6" y1="613.79" x2="405.9" y2="613.79" stroke="#EEEEEE" stroke-width="1" stroke-dasharray="1.5,1"/>
<line x1="252.6" y1="593.11" x2="405.9" y2="593.11" stroke="#EEEEEE" stroke-width="1" stroke-dasharray="1.5,1"/>
<line x1="252.6" y1="572.44" x2="405.9" y2="572.44" stroke="#EEEEEE" stroke-width="1" stroke-dasharray="1.5,1"/>
<line x1="252.6" y1="551.76" x2="405.9" y2="551.76" stroke="#EEEEEE" stroke-width="1" stroke-dasharray="1.5,1"/>
<line x1="252.6" y1="644.8" x2="405.9" y2="644.8" stroke="#EBEBEB" stroke-width="1.1"/>
<line x1="252.6" y1="624.12" x2="405.9" y2="624.12" stroke="#EBEBEB" stroke-width="1.1"/>
<line x1="252.6" y1="603.45" x2="405.9" y2="603.45" stroke="#EBEBEB" stroke-width="1.1"/>
<line x1="252.6" y1="582.77" x2="405.9" y2="582.77" stroke="#EBEBEB" stroke-width="1.1"/>
<line x1="252.6" y1="562.1" x2="405.9" y2="562.1" stroke="#EBEBEB" stroke-width="1.1"/>
<line x1="280.09" y1="549.3" x2="280.09" y2="646.8" stroke="#EBEBEB" stroke-width="1.1"/>
<line x1="329.25" y1="549.3" x2="329.25" y2="646.8" stroke="#EBEBEB" stroke-width="1.1"/>
<line x1="378.41" y1="549.3" x2="378.41" y2="646.8" stroke="#EBEBEB" stroke-width="1.1"/>
<path d="M265.35,623.3 L314.5,615.86 L363.66,608.62" fill="none" stroke="#F8766D" stroke-width="1.7"/>
<path d="M270.26,620.82 L319.42,605.31 L368.57,580.5" fill="none" stroke="#C49A00" stroke-width="1.7"/>
<path d="M275.18,625.37 L324.33,620.2 L373.49,605.31" fill="none" stroke="#53B400" stroke-width="1.7"/>
<path d="M280.09,626.19 L329.25,624.12 L378.41,618.34" fill="none" stroke="#00C094" stroke-width="1.7"/>
<path d="M285.01,625.57 L334.17,614.82 L383.32,590.22" fill="none" stroke="#00B6EB" stroke-width="1.7"/>
<path d="M289.93,636.94 L339.08,632.19 L388.24,618.96" fill="none" stroke="#A58AFF" stroke-width="1.7"/>
<path d="M294.84,639.22 L344,638.6 L393.15,632.81" fill="none" stroke="#FB61D7" stroke-width="1.7"/>
<line x1="265.35" y1="619.72" x2="265.35" y2="626.87" stroke="#F8766D" stroke-width="1.6"/>
<rect x="262.75" y="620.7" width="5.2" height="5.2" fill="none" stroke="#F8766D" stroke-width="1.3"/>
<line x1="314.5" y1="611.91" x2="314.5" y2="619.8" stroke="#F8766D" stroke-width="1.6"/>
<rect x="311.9" y="613.25" width="5.2" height="5.2" fill="none" stroke="#F8766D" stroke-width="1.3"/>
<line x1="363.66" y1="604.31" x2="363.66" y2="612.93" stroke="#F8766D" stroke-width="1.6"/>
<rect x="361.06" y="606.02" width="5.2" height="5.2" fill="none" stroke="#F8766D" stroke-width="1.3"/>
<line x1="270.26" y1="617.12" x2="270.26" y2="624.52" stroke="#C49A00" stroke-width="1.6"/>
<circle cx="270.26" cy="620.82" r="2.9" fill="none" stroke="#C49A00" stroke-width="1.3"/>
<line x1="319.42" y1="600.84" x2="319.42" y2="609.79" stroke="#C49A00" stroke-width="1.6"/>
<circle cx="319.42" cy="605.31" r="2.9" fill="none" stroke="#C49A00" stroke-width="1.3"/>
<line x1="368.57" y1="574.79" x2="368.57" y2="586.22" stroke="#C49A00" stroke-width="1.6"/>
<circle cx="368.57" cy="580.5" r="2.9" fill="none" stroke="#C49A00" stroke-width="1.3"/>
<line x1="275.18" y1="621.89" x2="275.18" y2="628.84" stroke="#53B400" stroke-width="1.6"/>
<path d="M275.18,621.74 L278.37,627.54 L271.99,627.54 Z" fill="none" stroke="#53B400" stroke-width="1.3"/>
<line x1="324.33" y1="616.47" x2="324.33" y2="623.93" stroke="#53B400" stroke-width="1.6"/>
<path d="M324.33,616.57 L327.52,622.37 L321.14,622.37 Z" fill="none" stroke="#53B400" stroke-width="1.3"/>
<line x1="373.49" y1="600.84" x2="373.49" y2="609.79" stroke="#53B400" stroke-width="1.6"/>
<path d="M373.49,601.69 L376.68,607.49 L370.3,607.49 Z" fill="none" stroke="#53B400" stroke-width="1.3"/>
<line x1="280.09" y1="622.76" x2="280.09" y2="629.62" stroke="#00C094" stroke-width="1.6"/>
<path d="M276.61,626.19 H283.57 M280.09,622.71 V629.67" fill="none" stroke="#00C094" stroke-width="1.3"/>
<line x1="329.25" y1="620.59" x2="329.25" y2="627.66" stroke="#00C094" stroke-width="1.6"/>
<path d="M325.77,624.12 H332.73 M329.25,620.64 V627.61" fill="none" stroke="#00C094" stroke-width="1.3"/>
<line x1="378.41" y1="614.51" x2="378.41" y2="622.16" stroke="#00C094" stroke-width="1.6"/>
<path d="M374.93,618.34 H381.89 M378.41,614.86 V621.82" fill="none" stroke="#00C094" stroke-width="1.3"/>
<line x1="285.01" y1="622.11" x2="285.01" y2="629.03" stroke="#00B6EB" stroke-width="1.6"/>
<path d="M282.25,622.82 L287.76,628.33 M282.25,628.33 L287.76,622.82" fill="none" stroke="#00B6EB" stroke-width="1.3"/>
<line x1="334.17" y1="610.82" x2="334.17" y2="618.82" stroke="#00B6EB" stroke-width="1.6"/>
<path d="M331.41,612.07 L336.92,617.58 M331.41,617.58 L336.92,612.07" fill="none" stroke="#00B6EB" stroke-width="1.3"/>
<line x1="383.32" y1="584.99" x2="383.32" y2="595.45" stroke="#00B6EB" stroke-width="1.6"/>
<path d="M380.57,587.46 L386.08,592.97 M380.57,592.97 L386.08,587.46" fill="none" stroke="#00B6EB" stroke-width="1.3"/>
<line x1="289.93" y1="633.94" x2="289.93" y2="639.94" stroke="#A58AFF" stroke-width="1.6"/>
<path d="M289.93,633.32 L293.55,636.94 L289.93,640.57 L286.3,636.94 Z" fill="none" stroke="#A58AFF" stroke-width="1.3"/>
<line x1="339.08" y1="629.06" x2="339.08" y2="635.32" stroke="#A58AFF" stroke-width="1.6"/>
<path d="M339.08,628.56 L342.71,632.19 L339.08,635.81 L335.46,632.19 Z" fill="none" stroke="#A58AFF" stroke-width="1.3"/>
<line x1="388.24" y1="615.16" x2="388.24" y2="622.75" stroke="#A58AFF" stroke-width="1.6"/>
<path d="M388.24,615.33 L391.86,618.96 L388.24,622.58 L384.61,618.96 Z" fill="none" stroke="#A58AFF" stroke-width="1.3"/>
<line x1="294.84" y1="636.22" x2="294.84" y2="642.22" stroke="#FB61D7" stroke-width="1.6"/>
<path d="M294.84,642.84 L298.03,637.04 L291.65,637.04 Z" fill="none" stroke="#FB61D7" stroke-width="1.3"/>
<line x1="344" y1="635.6" x2="344" y2="641.6" stroke="#FB61D7" stroke-width="1.6"/>
<path d="M344,642.22 L347.19,636.42 L340.81,636.42 Z" fill="none" stroke="#FB61D7" stroke-width="1.3"/>
<line x1="393.15" y1="629.71" x2="393.15" y2="635.91" stroke="#FB61D7" stroke-width="1.6"/>
<path d="M393.15,636.43 L396.34,630.63 L389.96,630.63 Z" fill="none" stroke="#FB61D7" stroke-width="1.3"/>
<rect x="250.6" y="547.3" width="157.3" height="101.5" fill="none" stroke="#000" stroke-width="1.35"/>
<line x1="246.5" y1="644.8" x2="250.6" y2="644.8" stroke="#000" stroke-width="1.2"/>
<text x="243.6" y="647.7" font-size="8" text-anchor="end" fill="#333" stroke="#333" stroke-width="0.3">0.00</text>
<line x1="246.5" y1="624.12" x2="250.6" y2="624.12" stroke="#000" stroke-width="1.2"/>
<text x="243.6" y="627.02" font-size="8" text-anchor="end" fill="#333" stroke="#333" stroke-width="0.3">0.01</text>
<line x1="246.5" y1="603.45" x2="250.6" y2="603.45" stroke="#000" stroke-width="1.2"/>
<text x="243.6" y="606.35" font-size="8" text-anchor="end" fill="#333" stroke="#333" stroke-width="0.3">0.02</text>
<line x1="246.5" y1="582.77" x2="250.6" y2="582.77" stroke="#000" stroke-width="1.2"/>
<text x="243.6" y="585.67" font-size="8" text-anchor="end" fill="#333" stroke="#333" stroke-width="0.3">0.03</text>
<line x1="246.5" y1="562.1" x2="250.6" y2="562.1" stroke="#000" stroke-width="1.2"/>
<text x="243.6" y="565" font-size="8" text-anchor="end" fill="#333" stroke="#333" stroke-width="0.3">0.04</text>
<line x1="280.09" y1="648.8" x2="280.09" y2="652.9" stroke="#000" stroke-width="1.2"/>
<text x="280.09" y="661.8" font-size="8" text-anchor="middle" fill="#333" stroke="#333" stroke-width="0.3">0.1</text>
<line x1="329.25" y1="648.8" x2="329.25" y2="652.9" stroke="#000" stroke-width="1.2"/>
<text x="329.25" y="661.8" font-size="8" text-anchor="middle" fill="#333" stroke="#333" stroke-width="0.3">0.2</text>
<line x1="378.41" y1="648.8" x2="378.41" y2="652.9" stroke="#000" stroke-width="1.2"/>
<text x="378.41" y="661.8" font-size="8" text-anchor="middle" fill="#333" stroke="#333" stroke-width="0.3">0.3</text>
<text x="326.85" y="539.7" font-size="15" text-anchor="middle" stroke="#000" stroke-width="0.35">FPR (n=500)</text>
<text x="331.85" y="677.3" font-size="12.8" text-anchor="middle" stroke="#000" stroke-width="0.3">beta</text>
<text transform="translate(221.5,603.95) rotate(-90)" font-size="13" text-anchor="middle" stroke="#000" stroke-width="0.3">FPR</text>
<line x1="456.2" y1="645.3" x2="616.1" y2="645.3" stroke="#EEEEEE" stroke-width="1" stroke-dasharray="1.5,1"/>
<line x1="456.2" y1="616.5" x2="616.1" y2="616.5" stroke="#EEEEEE" stroke-width="1" stroke-dasharray="1.5,1"/>
<line x1="456.2" y1="587.7" x2="616.1" y2="587.7" stroke="#EEEEEE" stroke-width="1" stroke-dasharray="1.5,1"/>
<line x1="456.2" y1="558.9" x2="616.1" y2="558.9" stroke="#EEEEEE" stroke-width="1" stroke-dasharray="1.5,1"/>
<line x1="456.2" y1="630.9" x2="616.1" y2="630.9" stroke="#EBEBEB" stroke-width="1.1"/>
<line x1="456.2" y1="602.1" x2="616.1" y2="602.1" stroke="#EBEBEB" stroke-width="1.1"/>
<line x1="456.2" y1="573.3" x2="616.1" y2="573.3" stroke="#EBEBEB" stroke-width="1.1"/>
<line x1="484.93" y1="549.3" x2="484.93" y2="646.8" stroke="#EBEBEB" stroke-width="1.1"/>
<line x1="536.15" y1="549.3" x2="536.15" y2="646.8" stroke="#EBEBEB" stroke-width="1.1"/>
<line x1="587.37" y1="549.3" x2="587.37" y2="646.8" stroke="#EBEBEB" stroke-width="1.1"/>
<path d="M469.57,593.39 L520.78,578.34 L572,565.38" fill="none" stroke="#F8766D" stroke-width="1.7"/>
<path d="M474.69,599.29 L525.91,584.53 L577.12,565.38" fill="none" stroke="#C49A00" stroke-width="1.7"/>
<path d="M479.81,600.66 L531.03,592.6 L582.25,576.54" fill="none" stroke="#53B400" stroke-width="1.7"/>
<path d="M484.93,601.45 L536.15,593.1 L587.37,584.53" fill="none" stroke="#00C094" stroke-width="1.7"/>
<path d="M490.05,602.82 L541.27,592.02 L592.49,573.3" fill="none" stroke="#00B6EB" stroke-width="1.7"/>
<path d="M495.18,602.1 L546.39,596.63 L597.61,580.5" fill="none" stroke="#A58AFF" stroke-width="1.7"/>
<path d="M500.3,602.53 L551.52,599.8 L602.73,588.56" fill="none" stroke="#FB61D7" stroke-width="1.7"/>
<line x1="469.57" y1="587.79" x2="469.57" y2="598.99" stroke="#F8766D" stroke-width="1.6"/>
<rect x="466.97" y="590.79" width="5.2" height="5.2" fill="none" stroke="#F8766D" stroke-width="1.3"/>
<line x1="520.78" y1="572.74" x2="520.78" y2="583.94" stroke="#F8766D" stroke-width="1.6"/>
<rect x="518.18" y="575.74" width="5.2" height="5.2" fill="none" stroke="#F8766D" stroke-width="1.3"/>
<line x1="572" y1="559.78" x2="572" y2="570.98" stroke="#F8766D" stroke-width="1.6"/>
<rect x="569.4" y="562.78" width="5.2" height="5.2" fill="none" stroke="#F8766D" stroke-width="1.3"/>
<line x1="474.69" y1="593.69" x2="474.69" y2="604.89" stroke="#C49A00" stroke-width="1.6"/>
<circle cx="474.69" cy="599.29" r="2.9" fill="none" stroke="#C49A00" stroke-width="1.3"/>
<line x1="525.91" y1="578.93" x2="525.91" y2="590.13" stroke="#C49A00" stroke-width="1.6"/>
<circle cx="525.91" cy="584.53" r="2.9" fill="none" stroke="#C49A00" stroke-width="1.3"/>
<line x1="577.12" y1="559.78" x2="577.12" y2="570.98" stroke="#C49A00" stroke-width="1.6"/>
<circle cx="577.12" cy="565.38" r="2.9" fill="none" stroke="#C49A00" stroke-width="1.3"/>
<line x1="479.81" y1="595.06" x2="479.81" y2="606.26" stroke="#53B400" stroke-width="1.6"/>
<path d="M479.81,597.03 L483,602.83 L476.62,602.83 Z" fill="none" stroke="#53B400" stroke-width="1.3"/>
<line x1="531.03" y1="587" x2="531.03" y2="598.2" stroke="#53B400" stroke-width="1.6"/>
<path d="M531.03,588.97 L534.22,594.77 L527.84,594.77 Z" fill="none" stroke="#53B400" stroke-width="1.3"/>
<line x1="582.25" y1="570.94" x2="582.25" y2="582.14" stroke="#53B400" stroke-width="1.6"/>
<path d="M582.25,572.91 L585.44,578.71 L579.06,578.71 Z" fill="none" stroke="#53B400" stroke-width="1.3"/>
<line x1="484.93" y1="595.85" x2="484.93" y2="607.05" stroke="#00C094" stroke-width="1.6"/>
<path d="M481.45,601.45 H488.41 M484.93,597.97 V604.93" fill="none" stroke="#00C094" stroke-width="1.3"/>
<line x1="536.15" y1="587.5" x2="536.15" y2="598.7" stroke="#00C094" stroke-width="1.6"/>
<path d="M532.67,593.1 H539.63 M536.15,589.62 V596.58" fill="none" stroke="#00C094" stroke-width="1.3"/>
<line x1="587.37" y1="578.93" x2="587.37" y2="590.13" stroke="#00C094" stroke-width="1.6"/>
<path d="M583.89,584.53 H590.85 M587.37,581.05 V588.01" fill="none" stroke="#00C094" stroke-width="1.3"/>
<line x1="490.05" y1="597.22" x2="490.05" y2="608.42" stroke="#00B6EB" stroke-width="1.6"/>
<path d="M487.3,600.06 L492.81,605.57 M487.3,605.57 L492.81,600.06" fill="none" stroke="#00B6EB" stroke-width="1.3"/>
<line x1="541.27" y1="586.42" x2="541.27" y2="597.62" stroke="#00B6EB" stroke-width="1.6"/>
<path d="M538.52,589.26 L544.03,594.77 M538.52,594.77 L544.03,589.26" fill="none" stroke="#00B6EB" stroke-width="1.3"/>
<line x1="592.49" y1="567.7" x2="592.49" y2="578.9" stroke="#00B6EB" stroke-width="1.6"/>
<path d="M589.74,570.54 L595.25,576.05 M589.74,576.05 L595.25,570.54" fill="none" stroke="#00B6EB" stroke-width="1.3"/>
<line x1="495.18" y1="596.5" x2="495.18" y2="607.7" stroke="#A58AFF" stroke-width="1.6"/>
<path d="M495.18,598.47 L498.8,602.1 L495.18,605.72 L491.55,602.1 Z" fill="none" stroke="#A58AFF" stroke-width="1.3"/>
<line x1="546.39" y1="591.03" x2="546.39" y2="602.23" stroke="#A58AFF" stroke-width="1.6"/>
<path d="M546.39,593 L550.02,596.63 L546.39,600.25 L542.77,596.63 Z" fill="none" stroke="#A58AFF" stroke-width="1.3"/>
<line x1="597.61" y1="574.9" x2="597.61" y2="586.1" stroke="#A58AFF" stroke-width="1.6"/>
<path d="M597.61,576.88 L601.24,580.5 L597.61,584.12 L593.99,580.5 Z" fill="none" stroke="#A58AFF" stroke-width="1.3"/>
<line x1="500.3" y1="596.93" x2="500.3" y2="608.13" stroke="#FB61D7" stroke-width="1.6"/>
<path d="M500.3,606.16 L503.49,600.36 L497.11,600.36 Z" fill="none" stroke="#FB61D7" stroke-width="1.3"/>
<line x1="551.52" y1="594.2" x2="551.52" y2="605.4" stroke="#FB61D7" stroke-width="1.6"/>
<path d="M551.52,603.42 L554.71,597.62 L548.33,597.62 Z" fill="none" stroke="#FB61D7" stroke-width="1.3"/>
<line x1="602.73" y1="582.96" x2="602.73" y2="594.16" stroke="#FB61D7" stroke-width="1.6"/>
<path d="M602.73,592.19 L605.92,586.39 L599.54,586.39 Z" fill="none" stroke="#FB61D7" stroke-width="1.3"/>
<rect x="454.2" y="547.3" width="163.9" height="101.5" fill="none" stroke="#000" stroke-width="1.35"/>
<line x1="450.1" y1="630.9" x2="454.2" y2="630.9" stroke="#000" stroke-width="1.2"/>
<text x="447.2" y="633.8" font-size="8" text-anchor="end" fill="#333" stroke="#333" stroke-width="0.3">4</text>
<line x1="450.1" y1="602.1" x2="454.2" y2="602.1" stroke="#000" stroke-width="1.2"/>
<text x="447.2" y="605" font-size="8" text-anchor="end" fill="#333" stroke="#333" stroke-width="0.3">8</text>
<line x1="450.1" y1="573.3" x2="454.2" y2="573.3" stroke="#000" stroke-width="1.2"/>
<text x="447.2" y="576.2" font-size="8" text-anchor="end" fill="#333" stroke="#333" stroke-width="0.3">12</text>
<line x1="484.93" y1="648.8" x2="484.93" y2="652.9" stroke="#000" stroke-width="1.2"/>
<text x="484.93" y="661.8" font-size="8" text-anchor="middle" fill="#333" stroke="#333" stroke-width="0.3">0.1</text>
<line x1="536.15" y1="648.8" x2="536.15" y2="652.9" stroke="#000" stroke-width="1.2"/>
<text x="536.15" y="661.8" font-size="8" text-anchor="middle" fill="#333" stroke="#333" stroke-width="0.3">0.2</text>
<line x1="587.37" y1="648.8" x2="587.37" y2="652.9" stroke="#000" stroke-width="1.2"/>
<text x="587.37" y="661.8" font-size="8" text-anchor="middle" fill="#333" stroke="#333" stroke-width="0.3">0.3</text>
<text x="533.75" y="539.7" font-size="15" text-anchor="middle" stroke="#000" stroke-width="0.35">SHD (n=500)</text>
<text x="538.75" y="677.3" font-size="12.8" text-anchor="middle" stroke="#000" stroke-width="0.3">beta</text>
<text transform="translate(431,603.95) rotate(-90)" font-size="13" text-anchor="middle" stroke="#000" stroke-width="0.3">SHD</text>
<line x1="43.4" y1="801.44" x2="196.4" y2="801.44" stroke="#EEEEEE" stroke-width="1" stroke-dasharray="1.5,1"/>
<line x1="43.4" y1="780.31" x2="196.4" y2="780.31" stroke="#EEEEEE" stroke-width="1" stroke-dasharray="1.5,1"/>
<line x1="43.4" y1="759.19" x2="196.4" y2="759.19" stroke="#EEEEEE" stroke-width="1" stroke-dasharray="1.5,1"/>
<line x1="43.4" y1="738.06" x2="196.4" y2="738.06" stroke="#EEEEEE" stroke-width="1" stroke-dasharray="1.5,1"/>
<line x1="43.4" y1="716.94" x2="196.4" y2="716.94" stroke="#EEEEEE" stroke-width="1" stroke-dasharray="1.5,1"/>
<line x1="43.4" y1="812" x2="196.4" y2="812" stroke="#EBEBEB" stroke-width="1.1"/>
<line x1="43.4" y1="790.88" x2="196.4" y2="790.88" stroke="#EBEBEB" stroke-width="1.1"/>
<line x1="43.4" y1="769.75" x2="196.4" y2="769.75" stroke="#EBEBEB" stroke-width="1.1"/>
<line x1="43.4" y1="748.62" x2="196.4" y2="748.62" stroke="#EBEBEB" stroke-width="1.1"/>
<line x1="43.4" y1="727.5" x2="196.4" y2="727.5" stroke="#EBEBEB" stroke-width="1.1"/>
<line x1="70.84" y1="716.6" x2="70.84" y2="814.1" stroke="#EBEBEB" stroke-width="1.1"/>
<line x1="119.9" y1="716.6" x2="119.9" y2="814.1" stroke="#EBEBEB" stroke-width="1.1"/>
<line x1="168.96" y1="716.6" x2="168.96" y2="814.1" stroke="#EBEBEB" stroke-width="1.1"/>
<path d="M56.12,749.47 L105.18,754.96 L154.24,762.57" fill="none" stroke="#F8766D" stroke-width="1.7"/>
<path d="M61.02,745.67 L110.09,747.36 L159.15,752" fill="none" stroke="#C49A00" stroke-width="1.7"/>
<path d="M65.93,748.2 L114.99,750.31 L164.06,758.34" fill="none" stroke="#53B400" stroke-width="1.7"/>
<path d="M70.84,749.47 L119.9,751.16 L168.96,758.76" fill="none" stroke="#00C094" stroke-width="1.7"/>
<path d="M75.74,746.09 L124.81,745.25 L173.87,747.78" fill="none" stroke="#00B6EB" stroke-width="1.7"/>
<path d="M80.65,752.43 L129.71,754.54 L178.78,758.34" fill="none" stroke="#A58AFF" stroke-width="1.7"/>
<path d="M85.56,753.69 L134.62,756.65 L183.68,759.61" fill="none" stroke="#FB61D7" stroke-width="1.7"/>
<line x1="56.12" y1="742.67" x2="56.12" y2="756.27" stroke="#F8766D" stroke-width="1.6"/>
<rect x="53.52" y="746.87" width="5.2" height="5.2" fill="none" stroke="#F8766D" stroke-width="1.3"/>
<line x1="105.18" y1="748.16" x2="105.18" y2="761.76" stroke="#F8766D" stroke-width="1.6"/>
<rect x="102.58" y="752.36" width="5.2" height="5.2" fill="none" stroke="#F8766D" stroke-width="1.3"/>
<line x1="154.24" y1="755.77" x2="154.24" y2="769.37" stroke="#F8766D" stroke-width="1.6"/>
<rect x="151.64" y="759.97" width="5.2" height="5.2" fill="none" stroke="#F8766D" stroke-width="1.3"/>
<line x1="61.02" y1="738.87" x2="61.02" y2="752.47" stroke="#C49A00" stroke-width="1.6"/>
<circle cx="61.02" cy="745.67" r="2.9" fill="none" stroke="#C49A00" stroke-width="1.3"/>
<line x1="110.09" y1="740.56" x2="110.09" y2="754.16" stroke="#C49A00" stroke-width="1.6"/>
<circle cx="110.09" cy="747.36" r="2.9" fill="none" stroke="#C49A00" stroke-width="1.3"/>
<line x1="159.15" y1="745.21" x2="159.15" y2="758.8" stroke="#C49A00" stroke-width="1.6"/>
<circle cx="159.15" cy="752" r="2.9" fill="none" stroke="#C49A00" stroke-width="1.3"/>
<line x1="65.93" y1="741.4" x2="65.93" y2="755" stroke="#53B400" stroke-width="1.6"/>
<path d="M65.93,744.58 L69.12,750.38 L62.74,750.38 Z" fill="none" stroke="#53B400" stroke-width="1.3"/>
<line x1="114.99" y1="743.51" x2="114.99" y2="757.11" stroke="#53B400" stroke-width="1.6"/>
<path d="M114.99,746.69 L118.18,752.49 L111.8,752.49 Z" fill="none" stroke="#53B400" stroke-width="1.3"/>
<line x1="164.06" y1="751.54" x2="164.06" y2="765.14" stroke="#53B400" stroke-width="1.6"/>
<path d="M164.06,754.72 L167.25,760.52 L160.87,760.52 Z" fill="none" stroke="#53B400" stroke-width="1.3"/>
<line x1="70.84" y1="742.67" x2="70.84" y2="756.27" stroke="#00C094" stroke-width="1.6"/>
<path d="M67.36,749.47 H74.32 M70.84,745.99 V752.95" fill="none" stroke="#00C094" stroke-width="1.3"/>
<line x1="119.9" y1="744.36" x2="119.9" y2="757.96" stroke="#00C094" stroke-width="1.6"/>
<path d="M116.42,751.16 H123.38 M119.9,747.68 V754.64" fill="none" stroke="#00C094" stroke-width="1.3"/>
<line x1="168.96" y1="751.97" x2="168.96" y2="765.56" stroke="#00C094" stroke-width="1.6"/>
<path d="M165.48,758.76 H172.44 M168.96,755.28 V762.25" fill="none" stroke="#00C094" stroke-width="1.3"/>
<line x1="75.74" y1="739.29" x2="75.74" y2="752.89" stroke="#00B6EB" stroke-width="1.6"/>
<path d="M72.99,743.33 L78.5,748.84 M72.99,748.84 L78.5,743.33" fill="none" stroke="#00B6EB" stroke-width="1.3"/>
<line x1="124.81" y1="738.45" x2="124.81" y2="752.04" stroke="#00B6EB" stroke-width="1.6"/>
<path d="M122.05,742.49 L127.56,748 M122.05,748 L127.56,742.49" fill="none" stroke="#00B6EB" stroke-width="1.3"/>
<line x1="173.87" y1="740.98" x2="173.87" y2="754.58" stroke="#00B6EB" stroke-width="1.6"/>
<path d="M171.11,745.02 L176.62,750.53 M171.11,750.53 L176.62,745.02" fill="none" stroke="#00B6EB" stroke-width="1.3"/>
<line x1="80.65" y1="745.63" x2="80.65" y2="759.23" stroke="#A58AFF" stroke-width="1.6"/>
<path d="M80.65,748.8 L84.28,752.43 L80.65,756.05 L77.03,752.43 Z" fill="none" stroke="#A58AFF" stroke-width="1.3"/>
<line x1="129.71" y1="747.74" x2="129.71" y2="761.34" stroke="#A58AFF" stroke-width="1.6"/>
<path d="M129.71,750.91 L133.34,754.54 L129.71,758.16 L126.09,754.54 Z" fill="none" stroke="#A58AFF" stroke-width="1.3"/>
<line x1="178.78" y1="751.54" x2="178.78" y2="765.14" stroke="#A58AFF" stroke-width="1.6"/>
<path d="M178.78,754.72 L182.4,758.34 L178.78,761.97 L175.15,758.34 Z" fill="none" stroke="#A58AFF" stroke-width="1.3"/>
<line x1="85.56" y1="746.89" x2="85.56" y2="760.49" stroke="#FB61D7" stroke-width="1.6"/>
<path d="M85.56,757.32 L88.75,751.52 L82.37,751.52 Z" fill="none" stroke="#FB61D7" stroke-width="1.3"/>
<line x1="134.62" y1="749.85" x2="134.62" y2="763.45" stroke="#FB61D7" stroke-width="1.6"/>
<path d="M134.62,760.28 L137.81,754.48 L131.43,754.48 Z" fill="none" stroke="#FB61D7" stroke-width="1.3"/>
<line x1="183.68" y1="752.81" x2="183.68" y2="766.41" stroke="#FB61D7" stroke-width="1.6"/>
<path d="M183.68,763.24 L186.87,757.44 L180.49,757.44 Z" fill="none" stroke="#FB61D7" stroke-width="1.3"/>
<rect x="41.4" y="714.6" width="157" height="101.5" fill="none" stroke="#000" stroke-width="1.35"/>
<line x1="37.3" y1="812" x2="41.4" y2="812" stroke="#000" stroke-width="1.2"/>
<text x="34.4" y="814.9" font-size="8" text-anchor="end" fill="#333" stroke="#333" stroke-width="0.3">0.75</text>
<line x1="37.3" y1="790.88" x2="41.4" y2="790.88" stroke="#000" stroke-width="1.2"/>
<text x="34.4" y="793.77" font-size="8" text-anchor="end" fill="#333" stroke="#333" stroke-width="0.3">0.80</text>
<line x1="37.3" y1="769.75" x2="41.4" y2="769.75" stroke="#000" stroke-width="1.2"/>
<text x="34.4" y="772.65" font-size="8" text-anchor="end" fill="#333" stroke="#333" stroke-width="0.3">0.85</text>
<line x1="37.3" y1="748.62" x2="41.4" y2="748.62" stroke="#000" stroke-width="1.2"/>
<text x="34.4" y="751.52" font-size="8" text-anchor="end" fill="#333" stroke="#333" stroke-width="0.3">0.90</text>
<line x1="37.3" y1="727.5" x2="41.4" y2="727.5" stroke="#000" stroke-width="1.2"/>
<text x="34.4" y="730.4" font-size="8" text-anchor="end" fill="#333" stroke="#333" stroke-width="0.3">0.95</text>
<line x1="70.84" y1="816.1" x2="70.84" y2="820.2" stroke="#000" stroke-width="1.2"/>
<text x="70.84" y="829.1" font-size="8" text-anchor="middle" fill="#333" stroke="#333" stroke-width="0.3">0.1</text>
<line x1="119.9" y1="816.1" x2="119.9" y2="820.2" stroke="#000" stroke-width="1.2"/>
<text x="119.9" y="829.1" font-size="8" text-anchor="middle" fill="#333" stroke="#333" stroke-width="0.3">0.2</text>
<line x1="168.96" y1="816.1" x2="168.96" y2="820.2" stroke="#000" stroke-width="1.2"/>
<text x="168.96" y="829.1" font-size="8" text-anchor="middle" fill="#333" stroke="#333" stroke-width="0.3">0.3</text>
<text x="117.5" y="707" font-size="15" text-anchor="middle" stroke="#000" stroke-width="0.35">TPR (n=1000)</text>
<text x="122.5" y="844.6" font-size="12.8" text-anchor="middle" stroke="#000" stroke-width="0.3">beta</text>
<text transform="translate(11.8,771.25) rotate(-90)" font-size="13" text-anchor="middle" stroke="#000" stroke-width="0.3">TPR</text>
<line x1="252.6" y1="801.2" x2="405.9" y2="801.2" stroke="#EEEEEE" stroke-width="1" stroke-dasharray="1.5,1"/>
<line x1="252.6" y1="780.6" x2="405.9" y2="780.6" stroke="#EEEEEE" stroke-width="1" stroke-dasharray="1.5,1"/>
<line x1="252.6" y1="760" x2="405.9" y2="760" stroke="#EEEEEE" stroke-width="1" stroke-dasharray="1.5,1"/>
<line x1="252.6" y1="739.4" x2="405.9" y2="739.4" stroke="#EEEEEE" stroke-width="1" stroke-dasharray="1.5,1"/>
<line x1="252.6" y1="718.8" x2="405.9" y2="718.8" stroke="#EEEEEE" stroke-width="1" stroke-dasharray="1.5,1"/>
<line x1="252.6" y1="811.5" x2="405.9" y2="811.5" stroke="#EBEBEB" stroke-width="1.1"/>
<line x1="252.6" y1="790.9" x2="405.9" y2="790.9" stroke="#EBEBEB" stroke-width="1.1"/>
<line x1="252.6" y1="770.3" x2="405.9" y2="770.3" stroke="#EBEBEB" stroke-width="1.1"/>
<line x1="252.6" y1="749.7" x2="405.9" y2="749.7" stroke="#EBEBEB" stroke-width="1.1"/>
<line x1="252.6" y1="729.1" x2="405.9" y2="729.1" stroke="#EBEBEB" stroke-width="1.1"/>
<line x1="280.09" y1="716.6" x2="280.09" y2="814.1" stroke="#EBEBEB" stroke-width="1.1"/>
<line x1="329.25" y1="716.6" x2="329.25" y2="814.1" stroke="#EBEBEB" stroke-width="1.1"/>
<line x1="378.41" y1="716.6" x2="378.41" y2="814.1" stroke="#EBEBEB" stroke-width="1.1"/>
<path d="M265.35,784.93 L314.5,770.51 L363.66,757.32" fill="none" stroke="#F8766D" stroke-width="1.7"/>
<path d="M270.26,782.45 L319.42,767.62 L368.57,742.9" fill="none" stroke="#C49A00" stroke-width="1.7"/>
<path d="M275.18,788.43 L324.33,782.45 L373.49,769.27" fill="none" stroke="#53B400" stroke-width="1.7"/>
<path d="M280.09,789.66 L329.25,788.02 L378.41,781.84" fill="none" stroke="#00C094" stroke-width="1.7"/>
<path d="M285.01,784.93 L334.17,774.21 L383.32,749.49" fill="none" stroke="#00B6EB" stroke-width="1.7"/>
<path d="M289.93,799.35 L339.08,798.11 L388.24,784.93" fill="none" stroke="#A58AFF" stroke-width="1.7"/>
<path d="M294.84,804.7 L344,804.08 L393.15,798.11" fill="none" stroke="#FB61D7" stroke-width="1.7"/>
<line x1="265.35" y1="781.1" x2="265.35" y2="788.75" stroke="#F8766D" stroke-width="1.6"/>
<rect x="262.75" y="782.33" width="5.2" height="5.2" fill="none" stroke="#F8766D" stroke-width="1.3"/>
<line x1="314.5" y1="765.96" x2="314.5" y2="775.06" stroke="#F8766D" stroke-width="1.6"/>
<rect x="311.9" y="767.91" width="5.2" height="5.2" fill="none" stroke="#F8766D" stroke-width="1.3"/>
<line x1="363.66" y1="752.11" x2="363.66" y2="762.53" stroke="#F8766D" stroke-width="1.6"/>
<rect x="361.06" y="754.72" width="5.2" height="5.2" fill="none" stroke="#F8766D" stroke-width="1.3"/>
<line x1="270.26" y1="778.5" x2="270.26" y2="786.41" stroke="#C49A00" stroke-width="1.6"/>
<circle cx="270.26" cy="782.45" r="2.9" fill="none" stroke="#C49A00" stroke-width="1.3"/>
<line x1="319.42" y1="762.93" x2="319.42" y2="772.32" stroke="#C49A00" stroke-width="1.6"/>
<circle cx="319.42" cy="767.62" r="2.9" fill="none" stroke="#C49A00" stroke-width="1.3"/>
<line x1="368.57" y1="736.97" x2="368.57" y2="748.83" stroke="#C49A00" stroke-width="1.6"/>
<circle cx="368.57" cy="742.9" r="2.9" fill="none" stroke="#C49A00" stroke-width="1.3"/>
<line x1="275.18" y1="784.77" x2="275.18" y2="792.08" stroke="#53B400" stroke-width="1.6"/>
<path d="M275.18,784.8 L278.37,790.6 L271.99,790.6 Z" fill="none" stroke="#53B400" stroke-width="1.3"/>
<line x1="324.33" y1="778.5" x2="324.33" y2="786.41" stroke="#53B400" stroke-width="1.6"/>
<path d="M324.33,778.83 L327.52,784.63 L321.14,784.63 Z" fill="none" stroke="#53B400" stroke-width="1.3"/>
<line x1="373.49" y1="764.66" x2="373.49" y2="773.88" stroke="#53B400" stroke-width="1.6"/>
<path d="M373.49,765.64 L376.68,771.44 L370.3,771.44 Z" fill="none" stroke="#53B400" stroke-width="1.3"/>
<line x1="280.09" y1="786.07" x2="280.09" y2="793.26" stroke="#00C094" stroke-width="1.6"/>
<path d="M276.61,789.66 H283.57 M280.09,786.18 V793.14" fill="none" stroke="#00C094" stroke-width="1.3"/>
<line x1="329.25" y1="784.34" x2="329.25" y2="791.69" stroke="#00C094" stroke-width="1.6"/>
<path d="M325.77,788.02 H332.73 M329.25,784.54 V791.5" fill="none" stroke="#00C094" stroke-width="1.3"/>
<line x1="378.41" y1="777.85" x2="378.41" y2="785.82" stroke="#00C094" stroke-width="1.6"/>
<path d="M374.93,781.84 H381.89 M378.41,778.36 V785.32" fill="none" stroke="#00C094" stroke-width="1.3"/>
<line x1="285.01" y1="781.1" x2="285.01" y2="788.75" stroke="#00B6EB" stroke-width="1.6"/>
<path d="M282.25,782.17 L287.76,787.68 M282.25,787.68 L287.76,782.17" fill="none" stroke="#00B6EB" stroke-width="1.3"/>
<line x1="334.17" y1="769.85" x2="334.17" y2="778.58" stroke="#00B6EB" stroke-width="1.6"/>
<path d="M331.41,771.46 L336.92,776.97 M331.41,776.97 L336.92,771.46" fill="none" stroke="#00B6EB" stroke-width="1.3"/>
<line x1="383.32" y1="743.89" x2="383.32" y2="755.09" stroke="#00B6EB" stroke-width="1.6"/>
<path d="M380.57,746.74 L386.08,752.25 M380.57,752.25 L386.08,746.74" fill="none" stroke="#00B6EB" stroke-width="1.3"/>
<line x1="289.93" y1="796.24" x2="289.93" y2="802.45" stroke="#A58AFF" stroke-width="1.6"/>
<path d="M289.93,795.72 L293.55,799.35 L289.93,802.97 L286.3,799.35 Z" fill="none" stroke="#A58AFF" stroke-width="1.3"/>
<line x1="339.08" y1="794.94" x2="339.08" y2="801.28" stroke="#A58AFF" stroke-width="1.6"/>
<path d="M339.08,794.49 L342.71,798.11 L339.08,801.74 L335.46,798.11 Z" fill="none" stroke="#A58AFF" stroke-width="1.3"/>
<line x1="388.24" y1="781.1" x2="388.24" y2="788.75" stroke="#A58AFF" stroke-width="1.6"/>
<path d="M388.24,781.3 L391.86,784.93 L388.24,788.55 L384.61,784.93 Z" fill="none" stroke="#A58AFF" stroke-width="1.3"/>
<line x1="294.84" y1="801.7" x2="294.84" y2="807.7" stroke="#FB61D7" stroke-width="1.6"/>
<path d="M294.84,808.33 L298.03,802.53 L291.65,802.53 Z" fill="none" stroke="#FB61D7" stroke-width="1.3"/>
<line x1="344" y1="801.08" x2="344" y2="807.08" stroke="#FB61D7" stroke-width="1.6"/>
<path d="M344,807.71 L347.19,801.91 L340.81,801.91 Z" fill="none" stroke="#FB61D7" stroke-width="1.3"/>
<line x1="393.15" y1="794.94" x2="393.15" y2="801.28" stroke="#FB61D7" stroke-width="1.6"/>
<path d="M393.15,801.74 L396.34,795.94 L389.96,795.94 Z" fill="none" stroke="#FB61D7" stroke-width="1.3"/>
<rect x="250.6" y="714.6" width="157.3" height="101.5" fill="none" stroke="#000" stroke-width="1.35"/>
<line x1="246.5" y1="811.5" x2="250.6" y2="811.5" stroke="#000" stroke-width="1.2"/>
<text x="243.6" y="814.4" font-size="8" text-anchor="end" fill="#333" stroke="#333" stroke-width="0.3">0.00</text>
<line x1="246.5" y1="790.9" x2="250.6" y2="790.9" stroke="#000" stroke-width="1.2"/>
<text x="243.6" y="793.8" font-size="8" text-anchor="end" fill="#333" stroke="#333" stroke-width="0.3">0.01</text>
<line x1="246.5" y1="770.3" x2="250.6" y2="770.3" stroke="#000" stroke-width="1.2"/>
<text x="243.6" y="773.2" font-size="8" text-anchor="end" fill="#333" stroke="#333" stroke-width="0.3">0.02</text>
<line x1="246.5" y1="749.7" x2="250.6" y2="749.7" stroke="#000" stroke-width="1.2"/>
<text x="243.6" y="752.6" font-size="8" text-anchor="end" fill="#333" stroke="#333" stroke-width="0.3">0.03</text>
<line x1="246.5" y1="729.1" x2="250.6" y2="729.1" stroke="#000" stroke-width="1.2"/>
<text x="243.6" y="732" font-size="8" text-anchor="end" fill="#333" stroke="#333" stroke-width="0.3">0.04</text>
<line x1="280.09" y1="816.1" x2="280.09" y2="820.2" stroke="#000" stroke-width="1.2"/>
<text x="280.09" y="829.1" font-size="8" text-anchor="middle" fill="#333" stroke="#333" stroke-width="0.3">0.1</text>
<line x1="329.25" y1="816.1" x2="329.25" y2="820.2" stroke="#000" stroke-width="1.2"/>
<text x="329.25" y="829.1" font-size="8" text-anchor="middle" fill="#333" stroke="#333" stroke-width="0.3">0.2</text>
<line x1="378.41" y1="816.1" x2="378.41" y2="820.2" stroke="#000" stroke-width="1.2"/>
<text x="378.41" y="829.1" font-size="8" text-anchor="middle" fill="#333" stroke="#333" stroke-width="0.3">0.3</text>
<text x="326.85" y="707" font-size="15" text-anchor="middle" stroke="#000" stroke-width="0.35">FPR (n=1000)</text>
<text x="331.85" y="844.6" font-size="12.8" text-anchor="middle" stroke="#000" stroke-width="0.3">beta</text>
<text transform="translate(221.5,771.25) rotate(-90)" font-size="13" text-anchor="middle" stroke="#000" stroke-width="0.3">FPR</text>
<line x1="456.2" y1="812.05" x2="616.1" y2="812.05" stroke="#EEEEEE" stroke-width="1" stroke-dasharray="1.5,1"/>
<line x1="456.2" y1="783.35" x2="616.1" y2="783.35" stroke="#EEEEEE" stroke-width="1" stroke-dasharray="1.5,1"/>
<line x1="456.2" y1="754.65" x2="616.1" y2="754.65" stroke="#EEEEEE" stroke-width="1" stroke-dasharray="1.5,1"/>
<line x1="456.2" y1="725.95" x2="616.1" y2="725.95" stroke="#EEEEEE" stroke-width="1" stroke-dasharray="1.5,1"/>
<line x1="456.2" y1="797.7" x2="616.1" y2="797.7" stroke="#EBEBEB" stroke-width="1.1"/>
<line x1="456.2" y1="769" x2="616.1" y2="769" stroke="#EBEBEB" stroke-width="1.1"/>
<line x1="456.2" y1="740.3" x2="616.1" y2="740.3" stroke="#EBEBEB" stroke-width="1.1"/>
<line x1="484.93" y1="716.6" x2="484.93" y2="814.1" stroke="#EBEBEB" stroke-width="1.1"/>
<line x1="536.15" y1="716.6" x2="536.15" y2="814.1" stroke="#EBEBEB" stroke-width="1.1"/>
<line x1="587.37" y1="716.6" x2="587.37" y2="814.1" stroke="#EBEBEB" stroke-width="1.1"/>
<path d="M469.57,768.71 L520.78,753.22 L572,735.71" fill="none" stroke="#F8766D" stroke-width="1.7"/>
<path d="M474.69,768.5 L525.91,755.37 L577.12,734.92" fill="none" stroke="#C49A00" stroke-width="1.7"/>
<path d="M479.81,769.79 L531.03,762.54 L582.25,749.63" fill="none" stroke="#53B400" stroke-width="1.7"/>
<path d="M484.93,770.58 L536.15,765.27 L587.37,758.52" fill="none" stroke="#00C094" stroke-width="1.7"/>
<path d="M490.05,769.79 L541.27,762.54 L592.49,743.17" fill="none" stroke="#00B6EB" stroke-width="1.7"/>
<path d="M495.18,773.31 L546.39,770.58 L597.61,759.1" fill="none" stroke="#A58AFF" stroke-width="1.7"/>
<path d="M500.3,777.83 L551.52,775.46 L602.73,768.71" fill="none" stroke="#FB61D7" stroke-width="1.7"/>
<line x1="469.57" y1="763.11" x2="469.57" y2="774.31" stroke="#F8766D" stroke-width="1.6"/>
<rect x="466.97" y="766.11" width="5.2" height="5.2" fill="none" stroke="#F8766D" stroke-width="1.3"/>
<line x1="520.78" y1="747.62" x2="520.78" y2="758.82" stroke="#F8766D" stroke-width="1.6"/>
<rect x="518.18" y="750.62" width="5.2" height="5.2" fill="none" stroke="#F8766D" stroke-width="1.3"/>
<line x1="572" y1="730.11" x2="572" y2="741.31" stroke="#F8766D" stroke-width="1.6"/>
<rect x="569.4" y="733.11" width="5.2" height="5.2" fill="none" stroke="#F8766D" stroke-width="1.3"/>
<line x1="474.69" y1="762.9" x2="474.69" y2="774.1" stroke="#C49A00" stroke-width="1.6"/>
<circle cx="474.69" cy="768.5" r="2.9" fill="none" stroke="#C49A00" stroke-width="1.3"/>
<line x1="525.91" y1="749.77" x2="525.91" y2="760.97" stroke="#C49A00" stroke-width="1.6"/>
<circle cx="525.91" cy="755.37" r="2.9" fill="none" stroke="#C49A00" stroke-width="1.3"/>
<line x1="577.12" y1="729.32" x2="577.12" y2="740.52" stroke="#C49A00" stroke-width="1.6"/>
<circle cx="577.12" cy="734.92" r="2.9" fill="none" stroke="#C49A00" stroke-width="1.3"/>
<line x1="479.81" y1="764.19" x2="479.81" y2="775.39" stroke="#53B400" stroke-width="1.6"/>
<path d="M479.81,766.16 L483,771.96 L476.62,771.96 Z" fill="none" stroke="#53B400" stroke-width="1.3"/>
<line x1="531.03" y1="756.94" x2="531.03" y2="768.14" stroke="#53B400" stroke-width="1.6"/>
<path d="M531.03,758.92 L534.22,764.72 L527.84,764.72 Z" fill="none" stroke="#53B400" stroke-width="1.3"/>
<line x1="582.25" y1="744.03" x2="582.25" y2="755.23" stroke="#53B400" stroke-width="1.6"/>
<path d="M582.25,746 L585.44,751.8 L579.06,751.8 Z" fill="none" stroke="#53B400" stroke-width="1.3"/>
<line x1="484.93" y1="764.98" x2="484.93" y2="776.18" stroke="#00C094" stroke-width="1.6"/>
<path d="M481.45,770.58 H488.41 M484.93,767.1 V774.06" fill="none" stroke="#00C094" stroke-width="1.3"/>
<line x1="536.15" y1="759.67" x2="536.15" y2="770.87" stroke="#00C094" stroke-width="1.6"/>
<path d="M532.67,765.27 H539.63 M536.15,761.79 V768.75" fill="none" stroke="#00C094" stroke-width="1.3"/>
<line x1="587.37" y1="752.92" x2="587.37" y2="764.12" stroke="#00C094" stroke-width="1.6"/>
<path d="M583.89,758.52 H590.85 M587.37,755.04 V762" fill="none" stroke="#00C094" stroke-width="1.3"/>
<line x1="490.05" y1="764.19" x2="490.05" y2="775.39" stroke="#00B6EB" stroke-width="1.6"/>
<path d="M487.3,767.03 L492.81,772.54 M487.3,772.54 L492.81,767.03" fill="none" stroke="#00B6EB" stroke-width="1.3"/>
<line x1="541.27" y1="756.94" x2="541.27" y2="768.14" stroke="#00B6EB" stroke-width="1.6"/>
<path d="M538.52,759.79 L544.03,765.3 M538.52,765.3 L544.03,759.79" fill="none" stroke="#00B6EB" stroke-width="1.3"/>
<line x1="592.49" y1="737.57" x2="592.49" y2="748.77" stroke="#00B6EB" stroke-width="1.6"/>
<path d="M589.74,740.41 L595.25,745.92 M589.74,745.92 L595.25,740.41" fill="none" stroke="#00B6EB" stroke-width="1.3"/>
<line x1="495.18" y1="767.71" x2="495.18" y2="778.91" stroke="#A58AFF" stroke-width="1.6"/>
<path d="M495.18,769.68 L498.8,773.31 L495.18,776.93 L491.55,773.31 Z" fill="none" stroke="#A58AFF" stroke-width="1.3"/>
<line x1="546.39" y1="764.98" x2="546.39" y2="776.18" stroke="#A58AFF" stroke-width="1.6"/>
<path d="M546.39,766.95 L550.02,770.58 L546.39,774.2 L542.77,770.58 Z" fill="none" stroke="#A58AFF" stroke-width="1.3"/>
<line x1="597.61" y1="753.5" x2="597.61" y2="764.7" stroke="#A58AFF" stroke-width="1.6"/>
<path d="M597.61,755.47 L601.24,759.1 L597.61,762.72 L593.99,759.1 Z" fill="none" stroke="#A58AFF" stroke-width="1.3"/>
<line x1="500.3" y1="772.23" x2="500.3" y2="783.43" stroke="#FB61D7" stroke-width="1.6"/>
<path d="M500.3,781.45 L503.49,775.65 L497.11,775.65 Z" fill="none" stroke="#FB61D7" stroke-width="1.3"/>
<line x1="551.52" y1="769.86" x2="551.52" y2="781.06" stroke="#FB61D7" stroke-width="1.6"/>
<path d="M551.52,779.08 L554.71,773.28 L548.33,773.28 Z" fill="none" stroke="#FB61D7" stroke-width="1.3"/>
<line x1="602.73" y1="763.11" x2="602.73" y2="774.31" stroke="#FB61D7" stroke-width="1.6"/>
<path d="M602.73,772.34 L605.92,766.54 L599.54,766.54 Z" fill="none" stroke="#FB61D7" stroke-width="1.3"/>
<rect x="454.2" y="714.6" width="163.9" height="101.5" fill="none" stroke="#000" stroke-width="1.35"/>
<line x1="450.1" y1="797.7" x2="454.2" y2="797.7" stroke="#000" stroke-width="1.2"/>
<text x="447.2" y="800.6" font-size="8" text-anchor="end" fill="#333" stroke="#333" stroke-width="0.3">4</text>
<line x1="450.1" y1="769" x2="454.2" y2="769" stroke="#000" stroke-width="1.2"/>
<text x="447.2" y="771.9" font-size="8" text-anchor="end" fill="#333" stroke="#333" stroke-width="0.3">8</text>
<line x1="450.1" y1="740.3" x2="454.2" y2="740.3" stroke="#000" stroke-width="1.2"/>
<text x="447.2" y="743.2" font-size="8" text-anchor="end" fill="#333" stroke="#333" stroke-width="0.3">12</text>
<line x1="484.93" y1="816.1" x2="484.93" y2="820.2" stroke="#000" stroke-width="1.2"/>
<text x="484.93" y="829.1" font-size="8" text-anchor="middle" fill="#333" stroke="#333" stroke-width="0.3">0.1</text>
<line x1="536.15" y1="816.1" x2="536.15" y2="820.2" stroke="#000" stroke-width="1.2"/>
<text x="536.15" y="829.1" font-size="8" text-anchor="middle" fill="#333" stroke="#333" stroke-width="0.3">0.2</text>
<line x1="587.37" y1="816.1" x2="587.37" y2="820.2" stroke="#000" stroke-width="1.2"/>
<text x="587.37" y="829.1" font-size="8" text-anchor="middle" fill="#333" stroke="#333" stroke-width="0.3">0.3</text>
<text x="533.75" y="707" font-size="15" text-anchor="middle" stroke="#000" stroke-width="0.35">SHD (n=1000)</text>
<text x="538.75" y="844.6" font-size="12.8" text-anchor="middle" stroke="#000" stroke-width="0.3">beta</text>
<text transform="translate(431,771.25) rotate(-90)" font-size="13" text-anchor="middle" stroke="#000" stroke-width="0.3">SHD</text>
<line x1="43.4" y1="967.94" x2="196.4" y2="967.94" stroke="#EEEEEE" stroke-width="1" stroke-dasharray="1.5,1"/>
<line x1="43.4" y1="946.81" x2="196.4" y2="946.81" stroke="#EEEEEE" stroke-width="1" stroke-dasharray="1.5,1"/>
<line x1="43.4" y1="925.69" x2="196.4" y2="925.69" stroke="#EEEEEE" stroke-width="1" stroke-dasharray="1.5,1"/>
<line x1="43.4" y1="904.56" x2="196.4" y2="904.56" stroke="#EEEEEE" stroke-width="1" stroke-dasharray="1.5,1"/>
<line x1="43.4" y1="883.44" x2="196.4" y2="883.44" stroke="#EEEEEE" stroke-width="1" stroke-dasharray="1.5,1"/>
<line x1="43.4" y1="978.5" x2="196.4" y2="978.5" stroke="#EBEBEB" stroke-width="1.1"/>
<line x1="43.4" y1="957.38" x2="196.4" y2="957.38" stroke="#EBEBEB" stroke-width="1.1"/>
<line x1="43.4" y1="936.25" x2="196.4" y2="936.25" stroke="#EBEBEB" stroke-width="1.1"/>
<line x1="43.4" y1="915.12" x2="196.4" y2="915.12" stroke="#EBEBEB" stroke-width="1.1"/>
<line x1="43.4" y1="894" x2="196.4" y2="894" stroke="#EBEBEB" stroke-width="1.1"/>
<line x1="70.84" y1="883.5" x2="70.84" y2="981" stroke="#EBEBEB" stroke-width="1.1"/>
<line x1="119.9" y1="883.5" x2="119.9" y2="981" stroke="#EBEBEB" stroke-width="1.1"/>
<line x1="168.96" y1="883.5" x2="168.96" y2="981" stroke="#EBEBEB" stroke-width="1.1"/>
<path d="M56.12,896.53 L105.18,902.45 L154.24,907.52" fill="none" stroke="#F8766D" stroke-width="1.7"/>
<path d="M61.02,896.53 L110.09,900.76 L159.15,901.61" fill="none" stroke="#C49A00" stroke-width="1.7"/>
<path d="M65.93,896.96 L114.99,902.87 L164.06,905.41" fill="none" stroke="#53B400" stroke-width="1.7"/>
<path d="M70.84,897.8 L119.9,903.72 L168.96,906.67" fill="none" stroke="#00C094" stroke-width="1.7"/>
<path d="M75.74,894 L124.81,897.38 L173.87,897.8" fill="none" stroke="#00B6EB" stroke-width="1.7"/>
<path d="M80.65,897.38 L129.71,901.61 L178.78,905.41" fill="none" stroke="#A58AFF" stroke-width="1.7"/>
<path d="M85.56,898.23 L134.62,903.72 L183.68,907.94" fill="none" stroke="#FB61D7" stroke-width="1.7"/>
<line x1="56.12" y1="889.74" x2="56.12" y2="903.33" stroke="#F8766D" stroke-width="1.6"/>
<rect x="53.52" y="893.93" width="5.2" height="5.2" fill="none" stroke="#F8766D" stroke-width="1.3"/>
<line x1="105.18" y1="895.65" x2="105.18" y2="909.25" stroke="#F8766D" stroke-width="1.6"/>
<rect x="102.58" y="899.85" width="5.2" height="5.2" fill="none" stroke="#F8766D" stroke-width="1.3"/>
<line x1="154.24" y1="900.72" x2="154.24" y2="914.32" stroke="#F8766D" stroke-width="1.6"/>
<rect x="151.64" y="904.92" width="5.2" height="5.2" fill="none" stroke="#F8766D" stroke-width="1.3"/>
<line x1="61.02" y1="889.74" x2="61.02" y2="903.33" stroke="#C49A00" stroke-width="1.6"/>
<circle cx="61.02" cy="896.53" r="2.9" fill="none" stroke="#C49A00" stroke-width="1.3"/>
<line x1="110.09" y1="893.96" x2="110.09" y2="907.56" stroke="#C49A00" stroke-width="1.6"/>
<circle cx="110.09" cy="900.76" r="2.9" fill="none" stroke="#C49A00" stroke-width="1.3"/>
<line x1="159.15" y1="894.81" x2="159.15" y2="908.4" stroke="#C49A00" stroke-width="1.6"/>
<circle cx="159.15" cy="901.61" r="2.9" fill="none" stroke="#C49A00" stroke-width="1.3"/>
<line x1="65.93" y1="890.16" x2="65.93" y2="903.76" stroke="#53B400" stroke-width="1.6"/>
<path d="M65.93,893.33 L69.12,899.13 L62.74,899.13 Z" fill="none" stroke="#53B400" stroke-width="1.3"/>
<line x1="114.99" y1="896.07" x2="114.99" y2="909.67" stroke="#53B400" stroke-width="1.6"/>
<path d="M114.99,899.25 L118.18,905.05 L111.8,905.05 Z" fill="none" stroke="#53B400" stroke-width="1.3"/>
<line x1="164.06" y1="898.61" x2="164.06" y2="912.21" stroke="#53B400" stroke-width="1.6"/>
<path d="M164.06,901.78 L167.25,907.58 L160.87,907.58 Z" fill="none" stroke="#53B400" stroke-width="1.3"/>
<line x1="70.84" y1="891" x2="70.84" y2="904.6" stroke="#00C094" stroke-width="1.6"/>
<path d="M67.36,897.8 H74.32 M70.84,894.32 V901.28" fill="none" stroke="#00C094" stroke-width="1.3"/>
<line x1="119.9" y1="896.92" x2="119.9" y2="910.52" stroke="#00C094" stroke-width="1.6"/>
<path d="M116.42,903.72 H123.38 M119.9,900.24 V907.2" fill="none" stroke="#00C094" stroke-width="1.3"/>
<line x1="168.96" y1="899.88" x2="168.96" y2="913.47" stroke="#00C094" stroke-width="1.6"/>
<path d="M165.48,906.67 H172.44 M168.96,903.19 V910.15" fill="none" stroke="#00C094" stroke-width="1.3"/>
<line x1="75.74" y1="887.2" x2="75.74" y2="900.8" stroke="#00B6EB" stroke-width="1.6"/>
<path d="M72.99,891.25 L78.5,896.75 M72.99,896.75 L78.5,891.25" fill="none" stroke="#00B6EB" stroke-width="1.3"/>
<line x1="124.81" y1="890.58" x2="124.81" y2="904.18" stroke="#00B6EB" stroke-width="1.6"/>
<path d="M122.05,894.62 L127.56,900.13 M122.05,900.13 L127.56,894.62" fill="none" stroke="#00B6EB" stroke-width="1.3"/>
<line x1="173.87" y1="891" x2="173.87" y2="904.6" stroke="#00B6EB" stroke-width="1.6"/>
<path d="M171.11,895.05 L176.62,900.56 M171.11,900.56 L176.62,895.05" fill="none" stroke="#00B6EB" stroke-width="1.3"/>
<line x1="80.65" y1="890.58" x2="80.65" y2="904.18" stroke="#A58AFF" stroke-width="1.6"/>
<path d="M80.65,893.75 L84.28,897.38 L80.65,901 L77.03,897.38 Z" fill="none" stroke="#A58AFF" stroke-width="1.3"/>
<line x1="129.71" y1="894.81" x2="129.71" y2="908.4" stroke="#A58AFF" stroke-width="1.6"/>
<path d="M129.71,897.98 L133.34,901.61 L129.71,905.23 L126.09,901.61 Z" fill="none" stroke="#A58AFF" stroke-width="1.3"/>
<line x1="178.78" y1="898.61" x2="178.78" y2="912.21" stroke="#A58AFF" stroke-width="1.6"/>
<path d="M178.78,901.78 L182.4,905.41 L178.78,909.03 L175.15,905.41 Z" fill="none" stroke="#A58AFF" stroke-width="1.3"/>
<line x1="85.56" y1="891.43" x2="85.56" y2="905.02" stroke="#FB61D7" stroke-width="1.6"/>
<path d="M85.56,901.85 L88.75,896.05 L82.37,896.05 Z" fill="none" stroke="#FB61D7" stroke-width="1.3"/>
<line x1="134.62" y1="896.92" x2="134.62" y2="910.52" stroke="#FB61D7" stroke-width="1.6"/>
<path d="M134.62,907.34 L137.81,901.54 L131.43,901.54 Z" fill="none" stroke="#FB61D7" stroke-width="1.3"/>
<line x1="183.68" y1="901.14" x2="183.68" y2="914.74" stroke="#FB61D7" stroke-width="1.6"/>
<path d="M183.68,911.57 L186.87,905.77 L180.49,905.77 Z" fill="none" stroke="#FB61D7" stroke-width="1.3"/>
<rect x="41.4" y="881.5" width="157" height="101.5" fill="none" stroke="#000" stroke-width="1.35"/>
<line x1="37.3" y1="978.5" x2="41.4" y2="978.5" stroke="#000" stroke-width="1.2"/>
<text x="34.4" y="981.4" font-size="8" text-anchor="end" fill="#333" stroke="#333" stroke-width="0.3">0.75</text>
<line x1="37.3" y1="957.38" x2="41.4" y2="957.38" stroke="#000" stroke-width="1.2"/>
<text x="34.4" y="960.27" font-size="8" text-anchor="end" fill="#333" stroke="#333" stroke-width="0.3">0.80</text>
<line x1="37.3" y1="936.25" x2="41.4" y2="936.25" stroke="#000" stroke-width="1.2"/>
<text x="34.4" y="939.15" font-size="8" text-anchor="end" fill="#333" stroke="#333" stroke-width="0.3">0.85</text>
<line x1="37.3" y1="915.12" x2="41.4" y2="915.12" stroke="#000" stroke-width="1.2"/>
<text x="34.4" y="918.02" font-size="8" text-anchor="end" fill="#333" stroke="#333" stroke-width="0.3">0.90</text>
<line x1="37.3" y1="894" x2="41.4" y2="894" stroke="#000" stroke-width="1.2"/>
<text x="34.4" y="896.9" font-size="8" text-anchor="end" fill="#333" stroke="#333" stroke-width="0.3">0.95</text>
<line x1="70.84" y1="983" x2="70.84" y2="987.1" stroke="#000" stroke-width="1.2"/>
<text x="70.84" y="996" font-size="8" text-anchor="middle" fill="#333" stroke="#333" stroke-width="0.3">0.1</text>
<line x1="119.9" y1="983" x2="119.9" y2="987.1" stroke="#000" stroke-width="1.2"/>
<text x="119.9" y="996" font-size="8" text-anchor="middle" fill="#333" stroke="#333" stroke-width="0.3">0.2</text>
<line x1="168.96" y1="983" x2="168.96" y2="987.1" stroke="#000" stroke-width="1.2"/>
<text x="168.96" y="996" font-size="8" text-anchor="middle" fill="#333" stroke="#333" stroke-width="0.3">0.3</text>
<text x="117.5" y="873.9" font-size="15" text-anchor="middle" stroke="#000" stroke-width="0.35">TPR (n=2000)</text>
<text x="122.5" y="1011.5" font-size="12.8" text-anchor="middle" stroke="#000" stroke-width="0.3">beta</text>
<text transform="translate(11.8,938.15) rotate(-90)" font-size="13" text-anchor="middle" stroke="#000" stroke-width="0.3">TPR</text>
<line x1="252.6" y1="968.2" x2="405.9" y2="968.2" stroke="#EEEEEE" stroke-width="1" stroke-dasharray="1.5,1"/>
<line x1="252.6" y1="947.6" x2="405.9" y2="947.6" stroke="#EEEEEE" stroke-width="1" stroke-dasharray="1.5,1"/>
<line x1="252.6" y1="927" x2="405.9" y2="927" stroke="#EEEEEE" stroke-width="1" stroke-dasharray="1.5,1"/>
<line x1="252.6" y1="906.4" x2="405.9" y2="906.4" stroke="#EEEEEE" stroke-width="1" stroke-dasharray="1.5,1"/>
<line x1="252.6" y1="885.8" x2="405.9" y2="885.8" stroke="#EEEEEE" stroke-width="1" stroke-dasharray="1.5,1"/>
<line x1="252.6" y1="978.5" x2="405.9" y2="978.5" stroke="#EBEBEB" stroke-width="1.1"/>
<line x1="252.6" y1="957.9" x2="405.9" y2="957.9" stroke="#EBEBEB" stroke-width="1.1"/>
<line x1="252.6" y1="937.3" x2="405.9" y2="937.3" stroke="#EBEBEB" stroke-width="1.1"/>
<line x1="252.6" y1="916.7" x2="405.9" y2="916.7" stroke="#EBEBEB" stroke-width="1.1"/>
<line x1="252.6" y1="896.1" x2="405.9" y2="896.1" stroke="#EBEBEB" stroke-width="1.1"/>
<line x1="280.09" y1="883.5" x2="280.09" y2="981" stroke="#EBEBEB" stroke-width="1.1"/>
<line x1="329.25" y1="883.5" x2="329.25" y2="981" stroke="#EBEBEB" stroke-width="1.1"/>
<line x1="378.41" y1="883.5" x2="378.41" y2="981" stroke="#EBEBEB" stroke-width="1.1"/>
<path d="M265.35,943.48 L314.5,920.2 L363.66,905.78" fill="none" stroke="#F8766D" stroke-width="1.7"/>
<path d="M270.26,942.86 L319.42,929.06 L368.57,896.31" fill="none" stroke="#C49A00" stroke-width="1.7"/>
<path d="M275.18,950.07 L324.33,941.63 L373.49,928.65" fill="none" stroke="#53B400" stroke-width="1.7"/>
<path d="M280.09,950.69 L329.25,948.22 L378.41,945.13" fill="none" stroke="#00C094" stroke-width="1.7"/>
<path d="M285.01,951.93 L334.17,939.98 L383.32,911.14" fill="none" stroke="#00B6EB" stroke-width="1.7"/>
<path d="M289.93,965.73 L339.08,962.23 L388.24,947.81" fill="none" stroke="#A58AFF" stroke-width="1.7"/>
<path d="M294.84,971.5 L344,969.85 L393.15,963.87" fill="none" stroke="#FB61D7" stroke-width="1.7"/>
<line x1="265.35" y1="939.23" x2="265.35" y2="947.73" stroke="#F8766D" stroke-width="1.6"/>
<rect x="262.75" y="940.88" width="5.2" height="5.2" fill="none" stroke="#F8766D" stroke-width="1.3"/>
<line x1="314.5" y1="914.79" x2="314.5" y2="925.62" stroke="#F8766D" stroke-width="1.6"/>
<rect x="311.9" y="917.6" width="5.2" height="5.2" fill="none" stroke="#F8766D" stroke-width="1.3"/>
<line x1="363.66" y1="899.65" x2="363.66" y2="911.92" stroke="#F8766D" stroke-width="1.6"/>
<rect x="361.06" y="903.18" width="5.2" height="5.2" fill="none" stroke="#F8766D" stroke-width="1.3"/>
<line x1="270.26" y1="938.58" x2="270.26" y2="947.14" stroke="#C49A00" stroke-width="1.6"/>
<circle cx="270.26" cy="942.86" r="2.9" fill="none" stroke="#C49A00" stroke-width="1.3"/>
<line x1="319.42" y1="924.09" x2="319.42" y2="934.03" stroke="#C49A00" stroke-width="1.6"/>
<circle cx="319.42" cy="929.06" r="2.9" fill="none" stroke="#C49A00" stroke-width="1.3"/>
<line x1="368.57" y1="889.7" x2="368.57" y2="902.92" stroke="#C49A00" stroke-width="1.6"/>
<circle cx="368.57" cy="896.31" r="2.9" fill="none" stroke="#C49A00" stroke-width="1.3"/>
<line x1="275.18" y1="946.15" x2="275.18" y2="953.99" stroke="#53B400" stroke-width="1.6"/>
<path d="M275.18,946.45 L278.37,952.25 L271.99,952.25 Z" fill="none" stroke="#53B400" stroke-width="1.3"/>
<line x1="324.33" y1="937.28" x2="324.33" y2="945.97" stroke="#53B400" stroke-width="1.6"/>
<path d="M324.33,938 L327.52,943.8 L321.14,943.8 Z" fill="none" stroke="#53B400" stroke-width="1.3"/>
<line x1="373.49" y1="923.66" x2="373.49" y2="933.64" stroke="#53B400" stroke-width="1.6"/>
<path d="M373.49,925.02 L376.68,930.82 L370.3,930.82 Z" fill="none" stroke="#53B400" stroke-width="1.3"/>
<line x1="280.09" y1="946.8" x2="280.09" y2="954.58" stroke="#00C094" stroke-width="1.6"/>
<path d="M276.61,950.69 H283.57 M280.09,947.21 V954.17" fill="none" stroke="#00C094" stroke-width="1.3"/>
<line x1="329.25" y1="944.2" x2="329.25" y2="952.23" stroke="#00C094" stroke-width="1.6"/>
<path d="M325.77,948.22 H332.73 M329.25,944.74 V951.7" fill="none" stroke="#00C094" stroke-width="1.3"/>
<line x1="378.41" y1="940.96" x2="378.41" y2="949.3" stroke="#00C094" stroke-width="1.6"/>
<path d="M374.93,945.13 H381.89 M378.41,941.65 V948.61" fill="none" stroke="#00C094" stroke-width="1.3"/>
<line x1="285.01" y1="948.1" x2="285.01" y2="955.75" stroke="#00B6EB" stroke-width="1.6"/>
<path d="M282.25,949.17 L287.76,954.68 M282.25,954.68 L287.76,949.17" fill="none" stroke="#00B6EB" stroke-width="1.3"/>
<line x1="334.17" y1="935.55" x2="334.17" y2="944.4" stroke="#00B6EB" stroke-width="1.6"/>
<path d="M331.41,937.22 L336.92,942.73 M331.41,942.73 L336.92,937.22" fill="none" stroke="#00B6EB" stroke-width="1.3"/>
<line x1="383.32" y1="905.27" x2="383.32" y2="917.01" stroke="#00B6EB" stroke-width="1.6"/>
<path d="M380.57,908.38 L386.08,913.89 M380.57,913.89 L386.08,908.38" fill="none" stroke="#00B6EB" stroke-width="1.3"/>
<line x1="289.93" y1="962.59" x2="289.93" y2="968.87" stroke="#A58AFF" stroke-width="1.6"/>
<path d="M289.93,962.1 L293.55,965.73 L289.93,969.35 L286.3,965.73 Z" fill="none" stroke="#A58AFF" stroke-width="1.3"/>
<line x1="339.08" y1="958.91" x2="339.08" y2="965.54" stroke="#A58AFF" stroke-width="1.6"/>
<path d="M339.08,958.6 L342.71,962.23 L339.08,965.85 L335.46,962.23 Z" fill="none" stroke="#A58AFF" stroke-width="1.3"/>
<line x1="388.24" y1="943.77" x2="388.24" y2="951.84" stroke="#A58AFF" stroke-width="1.6"/>
<path d="M388.24,944.18 L391.86,947.81 L388.24,951.43 L384.61,947.81 Z" fill="none" stroke="#A58AFF" stroke-width="1.3"/>
<line x1="294.84" y1="968.5" x2="294.84" y2="974.5" stroke="#FB61D7" stroke-width="1.6"/>
<path d="M294.84,975.12 L298.03,969.32 L291.65,969.32 Z" fill="none" stroke="#FB61D7" stroke-width="1.3"/>
<line x1="344" y1="966.85" x2="344" y2="972.85" stroke="#FB61D7" stroke-width="1.6"/>
<path d="M344,973.47 L347.19,967.67 L340.81,967.67 Z" fill="none" stroke="#FB61D7" stroke-width="1.3"/>
<line x1="393.15" y1="960.64" x2="393.15" y2="967.11" stroke="#FB61D7" stroke-width="1.6"/>
<path d="M393.15,967.5 L396.34,961.7 L389.96,961.7 Z" fill="none" stroke="#FB61D7" stroke-width="1.3"/>
<rect x="250.6" y="881.5" width="157.3" height="101.5" fill="none" stroke="#000" stroke-width="1.35"/>
<line x1="246.5" y1="978.5" x2="250.6" y2="978.5" stroke="#000" stroke-width="1.2"/>
<text x="243.6" y="981.4" font-size="8" text-anchor="end" fill="#333" stroke="#333" stroke-width="0.3">0.00</text>
<line x1="246.5" y1="957.9" x2="250.6" y2="957.9" stroke="#000" stroke-width="1.2"/>
<text x="243.6" y="960.8" font-size="8" text-anchor="end" fill="#333" stroke="#333" stroke-width="0.3">0.01</text>
<line x1="246.5" y1="937.3" x2="250.6" y2="937.3" stroke="#000" stroke-width="1.2"/>
<text x="243.6" y="940.2" font-size="8" text-anchor="end" fill="#333" stroke="#333" stroke-width="0.3">0.02</text>
<line x1="246.5" y1="916.7" x2="250.6" y2="916.7" stroke="#000" stroke-width="1.2"/>
<text x="243.6" y="919.6" font-size="8" text-anchor="end" fill="#333" stroke="#333" stroke-width="0.3">0.03</text>
<line x1="246.5" y1="896.1" x2="250.6" y2="896.1" stroke="#000" stroke-width="1.2"/>
<text x="243.6" y="899" font-size="8" text-anchor="end" fill="#333" stroke="#333" stroke-width="0.3">0.04</text>
<line x1="280.09" y1="983" x2="280.09" y2="987.1" stroke="#000" stroke-width="1.2"/>
<text x="280.09" y="996" font-size="8" text-anchor="middle" fill="#333" stroke="#333" stroke-width="0.3">0.1</text>
<line x1="329.25" y1="983" x2="329.25" y2="987.1" stroke="#000" stroke-width="1.2"/>
<text x="329.25" y="996" font-size="8" text-anchor="middle" fill="#333" stroke="#333" stroke-width="0.3">0.2</text>
<line x1="378.41" y1="983" x2="378.41" y2="987.1" stroke="#000" stroke-width="1.2"/>
<text x="378.41" y="996" font-size="8" text-anchor="middle" fill="#333" stroke="#333" stroke-width="0.3">0.3</text>
<text x="326.85" y="873.9" font-size="15" text-anchor="middle" stroke="#000" stroke-width="0.35">FPR (n=2000)</text>
<text x="331.85" y="1011.5" font-size="12.8" text-anchor="middle" stroke="#000" stroke-width="0.3">beta</text>
<text transform="translate(221.5,938.15) rotate(-90)" font-size="13" text-anchor="middle" stroke="#000" stroke-width="0.3">FPR</text>
<line x1="456.2" y1="978.43" x2="616.1" y2="978.43" stroke="#EEEEEE" stroke-width="1" stroke-dasharray="1.5,1"/>
<line x1="456.2" y1="949.77" x2="616.1" y2="949.77" stroke="#EEEEEE" stroke-width="1" stroke-dasharray="1.5,1"/>
<line x1="456.2" y1="921.12" x2="616.1" y2="921.12" stroke="#EEEEEE" stroke-width="1" stroke-dasharray="1.5,1"/>
<line x1="456.2" y1="892.47" x2="616.1" y2="892.47" stroke="#EEEEEE" stroke-width="1" stroke-dasharray="1.5,1"/>
<line x1="456.2" y1="964.1" x2="616.1" y2="964.1" stroke="#EBEBEB" stroke-width="1.1"/>
<line x1="456.2" y1="935.45" x2="616.1" y2="935.45" stroke="#EBEBEB" stroke-width="1.1"/>
<line x1="456.2" y1="906.8" x2="616.1" y2="906.8" stroke="#EBEBEB" stroke-width="1.1"/>
<line x1="484.93" y1="883.5" x2="484.93" y2="981" stroke="#EBEBEB" stroke-width="1.1"/>
<line x1="536.15" y1="883.5" x2="536.15" y2="981" stroke="#EBEBEB" stroke-width="1.1"/>
<line x1="587.37" y1="883.5" x2="587.37" y2="981" stroke="#EBEBEB" stroke-width="1.1"/>
<path d="M469.57,942.97 L520.78,923.7 L572,911.6" fill="none" stroke="#F8766D" stroke-width="1.7"/>
<path d="M474.69,946.41 L525.91,935.45 L577.12,906.08" fill="none" stroke="#C49A00" stroke-width="1.7"/>
<path d="M479.81,949.63 L531.03,942.4 L582.25,926.86" fill="none" stroke="#53B400" stroke-width="1.7"/>
<path d="M484.93,950.99 L536.15,944.26 L587.37,938.96" fill="none" stroke="#00C094" stroke-width="1.7"/>
<path d="M490.05,952.35 L541.27,943.47 L592.49,922.84" fill="none" stroke="#00B6EB" stroke-width="1.7"/>
<path d="M495.18,960.38 L546.39,954.43 L597.61,941.11" fill="none" stroke="#A58AFF" stroke-width="1.7"/>
<path d="M500.3,963.03 L551.52,959.52 L602.73,952.85" fill="none" stroke="#FB61D7" stroke-width="1.7"/>
<line x1="469.57" y1="937.37" x2="469.57" y2="948.57" stroke="#F8766D" stroke-width="1.6"/>
<rect x="466.97" y="940.37" width="5.2" height="5.2" fill="none" stroke="#F8766D" stroke-width="1.3"/>
<line x1="520.78" y1="918.1" x2="520.78" y2="929.3" stroke="#F8766D" stroke-width="1.6"/>
<rect x="518.18" y="921.1" width="5.2" height="5.2" fill="none" stroke="#F8766D" stroke-width="1.3"/>
<line x1="572" y1="906" x2="572" y2="917.2" stroke="#F8766D" stroke-width="1.6"/>
<rect x="569.4" y="909" width="5.2" height="5.2" fill="none" stroke="#F8766D" stroke-width="1.3"/>
<line x1="474.69" y1="940.81" x2="474.69" y2="952.01" stroke="#C49A00" stroke-width="1.6"/>
<circle cx="474.69" cy="946.41" r="2.9" fill="none" stroke="#C49A00" stroke-width="1.3"/>
<line x1="525.91" y1="929.85" x2="525.91" y2="941.05" stroke="#C49A00" stroke-width="1.6"/>
<circle cx="525.91" cy="935.45" r="2.9" fill="none" stroke="#C49A00" stroke-width="1.3"/>
<line x1="577.12" y1="900.48" x2="577.12" y2="911.68" stroke="#C49A00" stroke-width="1.6"/>
<circle cx="577.12" cy="906.08" r="2.9" fill="none" stroke="#C49A00" stroke-width="1.3"/>
<line x1="479.81" y1="944.03" x2="479.81" y2="955.23" stroke="#53B400" stroke-width="1.6"/>
<path d="M479.81,946.01 L483,951.81 L476.62,951.81 Z" fill="none" stroke="#53B400" stroke-width="1.3"/>
<line x1="531.03" y1="936.8" x2="531.03" y2="948" stroke="#53B400" stroke-width="1.6"/>
<path d="M531.03,938.77 L534.22,944.57 L527.84,944.57 Z" fill="none" stroke="#53B400" stroke-width="1.3"/>
<line x1="582.25" y1="921.25" x2="582.25" y2="932.46" stroke="#53B400" stroke-width="1.6"/>
<path d="M582.25,923.23 L585.44,929.03 L579.06,929.03 Z" fill="none" stroke="#53B400" stroke-width="1.3"/>
<line x1="484.93" y1="945.39" x2="484.93" y2="956.59" stroke="#00C094" stroke-width="1.6"/>
<path d="M481.45,950.99 H488.41 M484.93,947.51 V954.47" fill="none" stroke="#00C094" stroke-width="1.3"/>
<line x1="536.15" y1="938.66" x2="536.15" y2="949.86" stroke="#00C094" stroke-width="1.6"/>
<path d="M532.67,944.26 H539.63 M536.15,940.78 V947.74" fill="none" stroke="#00C094" stroke-width="1.3"/>
<line x1="587.37" y1="933.36" x2="587.37" y2="944.56" stroke="#00C094" stroke-width="1.6"/>
<path d="M583.89,938.96 H590.85 M587.37,935.48 V942.44" fill="none" stroke="#00C094" stroke-width="1.3"/>
<line x1="490.05" y1="946.75" x2="490.05" y2="957.95" stroke="#00B6EB" stroke-width="1.6"/>
<path d="M487.3,949.6 L492.81,955.11 M487.3,955.11 L492.81,949.6" fill="none" stroke="#00B6EB" stroke-width="1.3"/>
<line x1="541.27" y1="937.87" x2="541.27" y2="949.07" stroke="#00B6EB" stroke-width="1.6"/>
<path d="M538.52,940.72 L544.03,946.23 M538.52,946.23 L544.03,940.72" fill="none" stroke="#00B6EB" stroke-width="1.3"/>
<line x1="592.49" y1="917.24" x2="592.49" y2="928.44" stroke="#00B6EB" stroke-width="1.6"/>
<path d="M589.74,920.09 L595.25,925.6 M589.74,925.6 L595.25,920.09" fill="none" stroke="#00B6EB" stroke-width="1.3"/>
<line x1="495.18" y1="954.78" x2="495.18" y2="965.98" stroke="#A58AFF" stroke-width="1.6"/>
<path d="M495.18,956.75 L498.8,960.38 L495.18,964 L491.55,960.38 Z" fill="none" stroke="#A58AFF" stroke-width="1.3"/>
<line x1="546.39" y1="948.83" x2="546.39" y2="960.03" stroke="#A58AFF" stroke-width="1.6"/>
<path d="M546.39,950.81 L550.02,954.43 L546.39,958.06 L542.77,954.43 Z" fill="none" stroke="#A58AFF" stroke-width="1.3"/>
<line x1="597.61" y1="935.51" x2="597.61" y2="946.71" stroke="#A58AFF" stroke-width="1.6"/>
<path d="M597.61,937.48 L601.24,941.11 L597.61,944.73 L593.99,941.11 Z" fill="none" stroke="#A58AFF" stroke-width="1.3"/>
<line x1="500.3" y1="957.43" x2="500.3" y2="968.63" stroke="#FB61D7" stroke-width="1.6"/>
<path d="M500.3,966.65 L503.49,960.85 L497.11,960.85 Z" fill="none" stroke="#FB61D7" stroke-width="1.3"/>
<line x1="551.52" y1="953.92" x2="551.52" y2="965.12" stroke="#FB61D7" stroke-width="1.6"/>
<path d="M551.52,963.14 L554.71,957.34 L548.33,957.34 Z" fill="none" stroke="#FB61D7" stroke-width="1.3"/>
<line x1="602.73" y1="947.25" x2="602.73" y2="958.45" stroke="#FB61D7" stroke-width="1.6"/>
<path d="M602.73,956.48 L605.92,950.68 L599.54,950.68 Z" fill="none" stroke="#FB61D7" stroke-width="1.3"/>
<rect x="454.2" y="881.5" width="163.9" height="101.5" fill="none" stroke="#000" stroke-width="1.35"/>
<line x1="450.1" y1="964.1" x2="454.2" y2="964.1" stroke="#000" stroke-width="1.2"/>
<text x="447.2" y="967" font-size="8" text-anchor="end" fill="#333" stroke="#333" stroke-width="0.3">4</text>
<line x1="450.1" y1="935.45" x2="454.2" y2="935.45" stroke="#000" stroke-width="1.2"/>
<text x="447.2" y="938.35" font-size="8" text-anchor="end" fill="#333" stroke="#333" stroke-width="0.3">8</text>
<line x1="450.1" y1="906.8" x2="454.2" y2="906.8" stroke="#000" stroke-width="1.2"/>
<text x="447.2" y="909.7" font-size="8" text-anchor="end" fill="#333" stroke="#333" stroke-width="0.3">12</text>
<line x1="484.93" y1="983" x2="484.93" y2="987.1" stroke="#000" stroke-width="1.2"/>
<text x="484.93" y="996" font-size="8" text-anchor="middle" fill="#333" stroke="#333" stroke-width="0.3">0.1</text>
<line x1="536.15" y1="983" x2="536.15" y2="987.1" stroke="#000" stroke-width="1.2"/>
<text x="536.15" y="996" font-size="8" text-anchor="middle" fill="#333" stroke="#333" stroke-width="0.3">0.2</text>
<line x1="587.37" y1="983" x2="587.37" y2="987.1" stroke="#000" stroke-width="1.2"/>
<text x="587.37" y="996" font-size="8" text-anchor="middle" fill="#333" stroke="#333" stroke-width="0.3">0.3</text>
<text x="533.75" y="873.9" font-size="15" text-anchor="middle" stroke="#000" stroke-width="0.35">SHD (n=2000)</text>
<text x="538.75" y="1011.5" font-size="12.8" text-anchor="middle" stroke="#000" stroke-width="0.3">beta</text>
<text transform="translate(431,938.15) rotate(-90)" font-size="13" text-anchor="middle" stroke="#000" stroke-width="0.3">SHD</text>
<text x="632.5" y="159.8" font-size="10.7" text-anchor="start" stroke="#000" stroke-width="0.25">Methods</text>
<line x1="635" y1="178.3" x2="654" y2="178.3" stroke="#F8766D" stroke-width="1.5"/>
<rect x="641.9" y="175.7" width="5.2" height="5.2" fill="none" stroke="#F8766D" stroke-width="1.3"/>
<text x="659.3" y="181.2" font-size="8" text-anchor="start" fill="#222" stroke="#222" stroke-width="0.25">PC+MS</text>
<line x1="635" y1="202.3" x2="654" y2="202.3" stroke="#C49A00" stroke-width="1.5"/>
<circle cx="644.5" cy="202.3" r="2.9" fill="none" stroke="#C49A00" stroke-width="1.3"/>
<text x="659.3" y="205.2" font-size="8" text-anchor="start" fill="#222" stroke="#222" stroke-width="0.25">HPC+SS</text>
<line x1="635" y1="226.3" x2="654" y2="226.3" stroke="#53B400" stroke-width="1.5"/>
<path d="M644.5,222.68 L647.69,228.48 L641.31,228.48 Z" fill="none" stroke="#53B400" stroke-width="1.3"/>
<text x="659.3" y="229.2" font-size="8" text-anchor="start" fill="#222" stroke="#222" stroke-width="0.25">HPC+GESS</text>
<line x1="635" y1="250.3" x2="654" y2="250.3" stroke="#00C094" stroke-width="1.5"/>
<path d="M641.02,250.3 H647.98 M644.5,246.82 V253.78" fill="none" stroke="#00C094" stroke-width="1.3"/>
<text x="659.3" y="253.2" font-size="8" text-anchor="start" fill="#222" stroke="#222" stroke-width="0.25">HPC+LESS</text>
<line x1="635" y1="274.3" x2="654" y2="274.3" stroke="#00B6EB" stroke-width="1.5"/>
<path d="M641.75,271.55 L647.25,277.06 M641.75,277.06 L647.25,271.55" fill="none" stroke="#00B6EB" stroke-width="1.3"/>
<text x="659.3" y="277.2" font-size="8" text-anchor="start" fill="#222" stroke="#222" stroke-width="0.25">CoPC+SS</text>
<line x1="635" y1="298.3" x2="654" y2="298.3" stroke="#A58AFF" stroke-width="1.5"/>
<path d="M644.5,294.68 L648.12,298.3 L644.5,301.93 L640.88,298.3 Z" fill="none" stroke="#A58AFF" stroke-width="1.3"/>
<text x="659.3" y="301.2" font-size="8" text-anchor="start" fill="#222" stroke="#222" stroke-width="0.25">CoPC+GESS</text>
<line x1="635" y1="322.3" x2="654" y2="322.3" stroke="#FB61D7" stroke-width="1.5"/>
<path d="M644.5,325.93 L647.69,320.12 L641.31,320.12 Z" fill="none" stroke="#FB61D7" stroke-width="1.3"/>
<text x="659.3" y="325.2" font-size="8" text-anchor="start" fill="#222" stroke="#222" stroke-width="0.25">CoPC+LESS</text>
<text x="632.5" y="687" font-size="10.7" text-anchor="start" stroke="#000" stroke-width="0.25">Methods</text>
<line x1="635" y1="705.5" x2="654" y2="705.5" stroke="#F8766D" stroke-width="1.5"/>
<rect x="641.9" y="702.9" width="5.2" height="5.2" fill="none" stroke="#F8766D" stroke-width="1.3"/>
<text x="659.3" y="708.4" font-size="8" text-anchor="start" fill="#222" stroke="#222" stroke-width="0.25">PC+MS</text>
<line x1="635" y1="729.5" x2="654" y2="729.5" stroke="#C49A00" stroke-width="1.5"/>
<circle cx="644.5" cy="729.5" r="2.9" fill="none" stroke="#C49A00" stroke-width="1.3"/>
<text x="659.3" y="732.4" font-size="8" text-anchor="start" fill="#222" stroke="#222" stroke-width="0.25">HPC+SS</text>
<line x1="635" y1="753.5" x2="654" y2="753.5" stroke="#53B400" stroke-width="1.5"/>
<path d="M644.5,749.88 L647.69,755.67 L641.31,755.67 Z" fill="none" stroke="#53B400" stroke-width="1.3"/>
<text x="659.3" y="756.4" font-size="8" text-anchor="start" fill="#222" stroke="#222" stroke-width="0.25">HPC+GESS</text>
<line x1="635" y1="777.5" x2="654" y2="777.5" stroke="#00C094" stroke-width="1.5"/>
<path d="M641.02,777.5 H647.98 M644.5,774.02 V780.98" fill="none" stroke="#00C094" stroke-width="1.3"/>
<text x="659.3" y="780.4" font-size="8" text-anchor="start" fill="#222" stroke="#222" stroke-width="0.25">HPC+LESS</text>
<line x1="635" y1="801.5" x2="654" y2="801.5" stroke="#00B6EB" stroke-width="1.5"/>
<path d="M641.75,798.75 L647.25,804.25 M641.75,804.25 L647.25,798.75" fill="none" stroke="#00B6EB" stroke-width="1.3"/>
<text x="659.3" y="804.4" font-size="8" text-anchor="start" fill="#222" stroke="#222" stroke-width="0.25">CoPC+SS</text>
<line x1="635" y1="825.5" x2="654" y2="825.5" stroke="#A58AFF" stroke-width="1.5"/>
<path d="M644.5,821.88 L648.12,825.5 L644.5,829.12 L640.88,825.5 Z" fill="none" stroke="#A58AFF" stroke-width="1.3"/>
<text x="659.3" y="828.4" font-size="8" text-anchor="start" fill="#222" stroke="#222" stroke-width="0.25">CoPC+GESS</text>
<line x1="635" y1="849.5" x2="654" y2="849.5" stroke="#FB61D7" stroke-width="1.5"/>
<path d="M644.5,853.12 L647.69,847.33 L641.31,847.33 Z" fill="none" stroke="#FB61D7" stroke-width="1.3"/>
<text x="659.3" y="852.4" font-size="8" text-anchor="start" fill="#222" stroke="#222" stroke-width="0.25">CoPC+LESS</text>
<text x="329" y="504.4" font-size="15" text-anchor="middle" font-family="'Liberation Serif', serif" font-weight="bold">(a)</text>
<text x="329.6" y="1030.6" font-size="15" text-anchor="middle" font-family="'Liberation Serif', serif" font-weight="bold">(b)</text>
</svg>
</body></html>
